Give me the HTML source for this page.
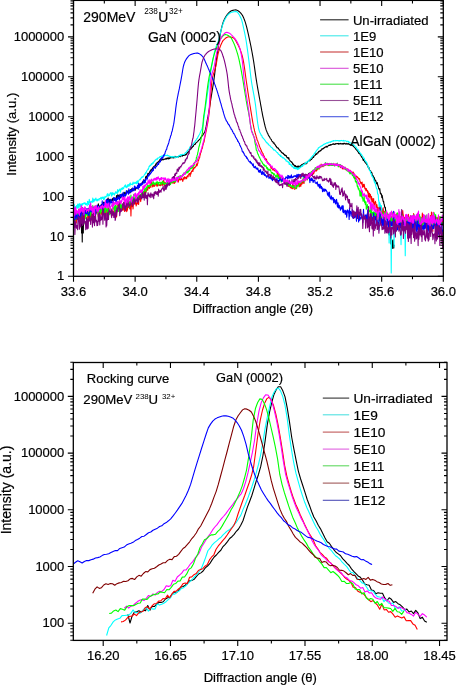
<!DOCTYPE html>
<html><head><meta charset="utf-8"><title>XRD</title>
<style>html,body{margin:0;padding:0;background:#fff;width:456px;height:685px;overflow:hidden}svg{display:block}</style>
</head><body>
<svg width="456" height="685" viewBox="0 0 456 685">
<rect width="456" height="685" fill="#fff"/>
<clipPath id="ct"><rect x="73.5" y="0.4" width="369.8" height="275.90000000000003"/></clipPath>
<g clip-path="url(#ct)" fill="none" stroke-width="1.1" stroke-linejoin="round">
<path stroke="#000000" d="M73.5 215L73.85 215.59L74.2 214.24L74.55 212.79L74.9 213.69L75.25 212.43L75.6 214.68L75.95 217.42L76.3 213.31L76.65 212.95L77 215.3L77.35 214.93L77.7 214.3L78.05 211.97L78.4 213.84L78.75 215.33L79.1 210.84L79.45 212.68L79.8 209.5L80.15 210.74L80.5 224L80.85 212.84L81.2 210.56L81.55 233L81.9 213.42L82.25 242L82.6 207.61L82.95 211.7L83.3 233L83.65 212.89L84 224L84.35 211.47L84.7 210.34L85.05 210.6L85.4 214.36L85.75 210.41L86.1 211.9L86.45 213.67L86.8 210.57L87.15 211.43L87.5 211.77L87.85 211.56L88.2 208.86L88.55 211.37L88.9 213.82L89.25 207.9L89.6 212.58L89.95 210.99L90.3 209.37L90.65 214.45L91 211.89L91.35 207.93L91.7 210.29L92.05 211.14L92.4 209.53L92.75 211.07L93.1 209.5L93.45 210.77L93.8 212.09L94.15 207.93L94.5 209.45L94.85 208.06L95.2 209.02L95.55 206.42L95.9 207.4L96.25 207.96L96.6 209.82L96.95 210.1L97.3 205.43L97.65 206.23L98 208.67L98.35 203.75L98.7 206.33L99.05 206.8L99.4 209L99.75 207.78L100.1 205.76L100.45 205.45L100.8 205.39L101.15 208.15L101.5 204.55L101.85 204.48L102.2 205.29L102.55 204.21L102.9 203.8L103.25 202.03L103.6 203.54L103.95 202.58L104.3 204.88L104.65 203.81L105 202.52L105.35 203.38L105.7 201.62L106.05 203.59L106.4 201.81L106.75 202.56L107.1 199.57L107.45 201.93L107.8 198.73L108.15 198.1L108.5 200.58L108.85 199.58L109.2 201.06L109.55 204.04L109.9 199.38L110.25 199.59L110.6 200.72L110.95 201.04L111.3 199.96L111.65 199.82L112 201.04L112.35 200.67L112.7 198.32L113.05 199.59L113.4 199.64L113.75 197.96L114.1 199.72L114.45 198L114.8 200.46L115.15 199.21L115.5 198.91L115.85 197.81L116.2 198.3L116.55 195.54L116.9 196.57L117.25 198.44L117.6 194.87L117.95 198.72L118.3 195.03L118.65 198.2L119 195.87L119.35 197.82L119.7 196.76L120.05 194.37L120.4 197.8L120.75 197.84L121.1 195.68L121.45 195.21L121.8 195.15L122.15 193.91L122.5 196.31L122.85 194.05L123.2 194.46L123.55 193.35L123.9 193.36L124.25 192.37L124.6 195.26L124.95 193.36L125.3 194.52L125.65 193.19L126 192.18L126.35 192.44L126.7 192L127.05 192.51L127.4 191.91L127.75 191.85L128.1 190.46L128.45 190.98L128.8 193.66L129.15 190.86L129.5 190.29L129.85 191.73L130.2 192.8L130.55 189.44L130.9 190.7L131.25 190.1L131.6 188.71L131.95 191.33L132.3 190.35L132.65 190.31L133 189.26L133.35 190.42L133.7 189.18L134.05 189.44L134.4 188.24L134.75 187.96L135.1 190.48L135.45 188.34L135.8 188.99L136.15 188.44L136.5 187.8L136.85 187.51L137.2 188.43L137.55 187.22L137.9 187.08L138.25 186.93L138.6 187.74L138.95 186.89L139.3 186.23L139.65 184.95L140 183.8L140.35 185.61L140.7 185.23L141.05 183.82L141.4 184.04L141.75 183.84L142.1 183.46L142.45 183.1L142.8 181.47L143.15 182.7L143.5 179.92L143.85 181.21L144.2 180.44L144.55 180.27L144.9 180.58L145.25 179.78L145.6 177.25L145.95 176.37L146.3 177.79L146.65 175.94L147 176.21L147.35 176.35L147.7 174.1L148.05 173.32L148.4 174.5L148.75 173.87L149.1 173.18L149.45 172.87L149.8 171.78L150.15 170.87L150.5 171.23L150.85 170.23L151.2 169.33L151.55 170.17L151.9 169.35L152.25 169.16L152.6 167.89L152.95 167.66L153.3 167.05L153.65 166.71L154 166.9L154.35 165.95L154.7 166.15L155.05 165.71L155.4 166.18L155.75 163.96L156.1 164.73L156.45 163.81L156.8 163.45L157.15 162.34L157.5 162.46L157.85 162.68L158.2 161.93L158.55 161.68L158.9 161.19L159.25 161.59L159.6 160.77L159.95 159.51L160.3 160.01L160.65 159.24L161 158.51L161.35 159.63L161.7 160.37L162.05 159.68L162.4 159.04L162.75 159.06L163.1 159.91L163.45 159.4L163.8 159.27L164.15 159.16L164.5 159.12L164.85 159.39L165.2 159.2L165.55 158.98L165.9 158.34L166.25 158.96L166.6 158.36L166.95 159.07L167.3 157.96L167.65 158.39L168 158.38L168.35 157.74L168.7 159L169.05 158.82L169.4 157.91L169.75 158.38L170.1 158.14L170.45 156.79L170.8 157.95L171.15 157.75L171.5 157.75L171.85 157.19L172.2 157.47L172.55 157.44L172.9 157.96L173.25 157.53L173.6 157.32L173.95 157.91L174.3 156.96L174.65 156.97L175 156.3L175.35 157.66L175.7 157.34L176.05 157.26L176.4 157.09L176.75 156.79L177.1 156.76L177.45 156.5L177.8 156.45L178.15 156.49L178.5 157.03L178.85 156.56L179.2 156.24L179.55 155.96L179.9 155.87L180.25 156.73L180.6 156.22L180.95 155.98L181.3 155.76L181.65 155.39L182 155.75L182.35 156.07L182.7 155.48L183.05 155.47L183.4 155.4L183.75 155.44L184.1 154.66L184.45 155.1L184.8 154.73L185.15 155.29L185.5 154.44L185.85 154.72L186.2 154.79L186.55 153.73L186.9 153.25L187.25 153.15L187.6 152.66L187.95 151.87L188.3 151.98L188.65 152.12L189 150.91L189.35 150.53L189.7 149.83L190.05 149.87L190.4 148.9L190.75 148.5L191.1 148.84L191.45 147.68L191.8 147.87L192.15 147.58L192.5 146.75L192.85 146.44L193.2 146.48L193.55 145.45L193.9 144.98L194.25 144.41L194.6 144.48L194.95 144.57L195.3 144.08L195.65 143.2L196 142.88L196.35 142.64L196.7 142.5L197.05 141.99L197.4 141.73L197.75 141.37L198.1 140.83L198.45 140.51L198.8 140.18L199.15 139.7L199.5 139.44L199.85 139.36L200.2 138.61L200.55 138.04L200.9 137.16L201.25 137.19L201.6 136.19L201.95 135.88L202.3 135.96L202.65 135.47L203 134.8L203.35 133.96L203.7 133.7L204.05 133.03L204.4 132.63L204.75 132.2L205.1 130.94L205.45 129.63L205.8 128.05L206.15 126.46L206.5 124.48L206.85 122.31L207.2 120.55L207.55 118.52L207.9 116.94L208.25 114.99L208.6 113.02L208.95 110.82L209.3 108.87L209.65 106.68L210 104.47L210.35 102.27L210.7 99.96L211.05 97.73L211.4 95.68L211.75 93.44L212.1 91.35L212.45 89.3L212.8 87.03L213.15 84.93L213.5 82.73L213.85 80.37L214.2 77.78L214.55 75.07L214.9 72.13L215.25 69.1L215.6 66.14L215.95 63.31L216.3 60.56L216.65 57.95L217 55.59L217.35 53.22L217.7 50.91L218.05 48.56L218.4 46.23L218.75 43.89L219.1 41.66L219.45 39.41L219.8 37.33L220.15 35.21L220.5 33.18L220.85 31.24L221.2 29.54L221.55 28.04L221.9 26.59L222.25 25.28L222.6 24.03L222.95 22.89L223.3 21.9L223.65 21.04L224 20.24L224.35 19.47L224.7 18.74L225.05 18.06L225.4 17.41L225.75 16.79L226.1 16.23L226.45 15.69L226.8 15.17L227.15 14.71L227.5 14.26L227.85 13.85L228.2 13.47L228.55 13.09L228.9 12.73L229.25 12.37L229.6 12.05L229.95 11.74L230.3 11.46L230.65 11.23L231 11.02L231.35 10.86L231.7 10.73L232.05 10.6L232.4 10.5L232.75 10.39L233.1 10.29L233.45 10.19L233.8 10.11L234.15 10.03L234.5 9.99L234.85 9.93L235.2 9.9L235.55 9.9L235.9 9.93L236.25 9.98L236.6 10.09L236.95 10.24L237.3 10.41L237.65 10.62L238 10.83L238.35 11.06L238.7 11.3L239.05 11.53L239.4 11.79L239.75 12.08L240.1 12.4L240.45 12.76L240.8 13.18L241.15 13.59L241.5 14.05L241.85 14.54L242.2 15.05L242.55 15.63L242.9 16.29L243.25 16.99L243.6 17.77L243.95 18.61L244.3 19.49L244.65 20.44L245 21.41L245.35 22.43L245.7 23.55L246.05 24.78L246.4 26.08L246.75 27.4L247.1 28.85L247.45 30.31L247.8 31.84L248.15 33.37L248.5 34.95L248.85 36.53L249.2 38.15L249.55 39.79L249.9 41.41L250.25 43.05L250.6 44.75L250.95 46.48L251.3 48.3L251.65 50.14L252 52.02L252.35 53.95L252.7 55.89L253.05 57.93L253.4 60L253.75 62.21L254.1 64.54L254.45 66.9L254.8 69.36L255.15 71.89L255.5 74.36L255.85 76.77L256.2 79.13L256.55 81.28L256.9 83.48L257.25 85.52L257.6 87.57L257.95 89.54L258.3 91.48L258.65 93.41L259 95.38L259.35 97.28L259.7 99.27L260.05 101.18L260.4 103.01L260.75 105.1L261.1 106.93L261.45 108.94L261.8 110.89L262.15 112.54L262.5 114.59L262.85 116.32L263.2 117.91L263.55 119.5L263.9 121.12L264.25 122.6L264.6 124.24L264.95 125.64L265.3 127.11L265.65 128.11L266 129.48L266.35 130.43L266.7 131.26L267.05 132.04L267.4 133.04L267.75 133.32L268.1 134.5L268.45 135.13L268.8 135.8L269.15 136.44L269.5 136.8L269.85 137.47L270.2 138.25L270.55 138.76L270.9 139.24L271.25 139.34L271.6 140.39L271.95 141.07L272.3 141.54L272.65 141.82L273 141.81L273.35 142.97L273.7 143.13L274.05 142.9L274.4 144.17L274.75 144.06L275.1 144.54L275.45 145.15L275.8 146.14L276.15 146.05L276.5 146.65L276.85 147.51L277.2 147.86L277.55 147.71L277.9 148.05L278.25 148.09L278.6 148.66L278.95 149.41L279.3 149.78L279.65 150.06L280 150.75L280.35 150.5L280.7 151.12L281.05 151.77L281.4 152.08L281.75 152.62L282.1 152.72L282.45 152.81L282.8 153.4L283.15 153.23L283.5 153.32L283.85 154.51L284.2 154.59L284.55 155.07L284.9 154.6L285.25 155.46L285.6 155.68L285.95 155.9L286.3 155.64L286.65 156.76L287 157.61L287.35 157.72L287.7 157.62L288.05 158.2L288.4 158.86L288.75 157.63L289.1 159.14L289.45 159.79L289.8 160.23L290.15 161.1L290.5 161.25L290.85 161.28L291.2 161.7L291.55 162.36L291.9 162.15L292.25 162.82L292.6 163.72L292.95 164.67L293.3 164L293.65 164.45L294 164.95L294.35 165.92L294.7 165.52L295.05 166.64L295.4 165.59L295.75 166.26L296.1 166.46L296.45 167.18L296.8 167.46L297.15 166.11L297.5 166.48L297.85 167.18L298.2 166.57L298.55 166L298.9 167.31L299.25 166.86L299.6 166.69L299.95 165.96L300.3 166.58L300.65 165.67L301 166.16L301.35 164.86L301.7 164.66L302.05 165L302.4 164.31L302.75 164.83L303.1 164.43L303.45 163.64L303.8 163.97L304.15 163.58L304.5 164.04L304.85 163.08L305.2 163L305.55 163.65L305.9 163.97L306.25 163.67L306.6 162.52L306.95 162.4L307.3 162.85L307.65 161.84L308 161.23L308.35 161.54L308.7 161.49L309.05 160.66L309.4 160.04L309.75 159.91L310.1 160.64L310.45 159.71L310.8 159.71L311.15 159.56L311.5 159.42L311.85 158.66L312.2 158.67L312.55 157.7L312.9 157.56L313.25 156.9L313.6 157.42L313.95 156.54L314.3 155.86L314.65 155.62L315 155.28L315.35 155.25L315.7 153.96L316.05 153.8L316.4 153.68L316.75 154.42L317.1 153.47L317.45 152.72L317.8 152.7L318.15 152.88L318.5 151.75L318.85 151.43L319.2 151.73L319.55 151.21L319.9 151.02L320.25 150.35L320.6 150.94L320.95 150.61L321.3 149.97L321.65 149.77L322 148.62L322.35 149.29L322.7 148.78L323.05 148.77L323.4 148.63L323.75 148.08L324.1 147.44L324.45 147.9L324.8 147.35L325.15 147.29L325.5 147.02L325.85 146.93L326.2 146.14L326.55 147.09L326.9 146.63L327.25 146.75L327.6 146.87L327.95 146.13L328.3 145.42L328.65 145.56L329 145.32L329.35 145.39L329.7 145.42L330.05 144.66L330.4 145.22L330.75 144.53L331.1 144.94L331.45 144.69L331.8 144.5L332.15 144.46L332.5 144.21L332.85 144.08L333.2 143.67L333.55 144.06L333.9 144.52L334.25 144.48L334.6 144.23L334.95 144L335.3 143.56L335.65 144.14L336 143.69L336.35 143.68L336.7 143.62L337.05 143.73L337.4 143.58L337.75 143.68L338.1 143.39L338.45 143.59L338.8 144.35L339.15 143.68L339.5 143.63L339.85 143.85L340.2 143.9L340.55 143.38L340.9 143.64L341.25 143.96L341.6 143.78L341.95 143.73L342.3 144.15L342.65 143.51L343 143.72L343.35 143.55L343.7 144.13L344.05 143.14L344.4 143.51L344.75 143.55L345.1 143.89L345.45 143.88L345.8 144.13L346.15 143.31L346.5 144.01L346.85 143.76L347.2 143.71L347.55 144.12L347.9 143.78L348.25 143.52L348.6 144.1L348.95 143.87L349.3 144.22L349.65 144.63L350 144.72L350.35 145.22L350.7 144.81L351.05 144.54L351.4 144.9L351.75 144.99L352.1 145.03L352.45 145.69L352.8 145.57L353.15 145.4L353.5 146.5L353.85 146.56L354.2 147.06L354.55 147.35L354.9 147.91L355.25 148.14L355.6 148.97L355.95 149.16L356.3 149.61L356.65 150.1L357 149.93L357.35 150.86L357.7 151.32L358.05 151.97L358.4 151.87L358.75 153.45L359.1 153.34L359.45 153.3L359.8 153.57L360.15 154.6L360.5 155.17L360.85 155.41L361.2 156.25L361.55 156.46L361.9 157.49L362.25 157.48L362.6 158.31L362.95 159.31L363.3 160.58L363.65 159.51L364 160.31L364.35 160.69L364.7 162.03L365.05 161.65L365.4 162.54L365.75 163.32L366.1 163.4L366.45 163.96L366.8 164.77L367.15 164.46L367.5 165.37L367.85 166.5L368.2 167.38L368.55 167.77L368.9 167.42L369.25 168.76L369.6 170.11L369.95 170.56L370.3 170.77L370.65 170.85L371 172.44L371.35 172.26L371.7 172.48L372.05 173.34L372.4 175.53L372.75 175.32L373.1 176.65L373.45 176.12L373.8 177.84L374.15 177.35L374.5 178.36L374.85 181.15L375.2 180.49L375.55 180.16L375.9 181.22L376.25 182.3L376.6 183.82L376.95 183.05L377.3 182.64L377.65 184.75L378 185.81L378.35 186.69L378.7 188.71L379.05 188.51L379.4 189.84L379.75 188.61L380.1 191.6L380.45 193.9L380.8 193.33L381.15 193.69L381.5 194.58L381.85 197.75L382.2 195.42L382.55 197.74L382.9 199.87L383.25 201.7L383.6 201.37L383.95 204.02L384.3 204.57L384.65 206.79L385 207.89L385.35 207.49L385.7 211.21L386.05 214.73L386.4 212.42L386.75 215.72L387.1 219.65L387.45 217.04L387.8 222.06L388.15 220.31L388.5 228.48L388.85 234.09L389.2 235.18L389.55 229.48L389.9 234.79L390.25 234.39L390.6 236.12L390.95 243.93L391.3 232.88L391.65 244.67L392 240.56L392.35 248.49L392.7 243.44L393.05 239.84L393.4 245.27L393.75 248.14L394.1 244.79"/>
<path stroke="#00ffff" d="M73.5 208.77L73.85 207.02L74.2 204.34L74.55 208.94L74.9 208.47L75.25 207.46L75.6 207.18L75.95 208.52L76.3 206.08L76.65 205.55L77 206.19L77.35 208.13L77.7 204.1L78.05 207.83L78.4 204.94L78.75 204.12L79.11 207.47L79.46 205.32L79.81 203.42L80.16 204.66L80.51 206.4L80.86 206.64L81.21 204.15L81.56 205.22L81.91 205.52L82.26 203.45L82.61 204.74L82.96 204.06L83.31 203.21L83.66 203.15L84.01 203.81L84.36 203.63L84.71 202.67L85.06 202.74L85.41 204.74L85.76 203.38L86.11 204.17L86.46 204.48L86.81 203.52L87.16 205.69L87.51 201.38L87.86 203.47L88.21 201.84L88.56 204.64L88.91 204.32L89.26 199.34L89.61 200.55L89.96 202.61L90.32 202.66L90.67 202.49L91.02 201.32L91.37 201.91L91.72 202.06L92.07 201.01L92.42 202.34L92.77 197.98L93.12 201.62L93.47 199.37L93.82 201.83L94.17 200.2L94.52 199.26L94.87 200.77L95.22 199.03L95.57 198.93L95.92 198.01L96.27 199.84L96.62 200.39L96.97 200.93L97.32 199.37L97.67 200.73L98.02 199.34L98.37 199.09L98.72 199.8L99.07 200.27L99.42 198.44L99.77 198.44L100.12 198.43L100.47 198.6L100.82 197.31L101.17 199.5L101.53 197.67L101.88 198.58L102.23 196.94L102.58 198.22L102.93 198.14L103.28 197.07L103.63 199.8L103.98 197.75L104.33 199.26L104.68 198.19L105.03 196.19L105.38 196.39L105.73 197.21L106.08 196.66L106.43 196.52L106.78 196.01L107.13 194.17L107.48 195.83L107.83 193.47L108.18 196.24L108.53 194.88L108.88 194.77L109.23 195.18L109.58 195.59L109.93 193.59L110.28 193.11L110.63 193.72L110.98 192.53L111.33 193.55L111.68 196.16L112.03 193.18L112.38 194.85L112.74 192.56L113.09 194.17L113.44 193.37L113.79 193.49L114.14 193.99L114.49 195.06L114.84 193.28L115.19 193.04L115.54 191.75L115.89 193.16L116.24 192.13L116.59 193.02L116.94 191.95L117.29 193.52L117.64 189.62L117.99 191.08L118.34 192.02L118.69 190.6L119.04 189.95L119.39 190.24L119.74 188.96L120.09 190.16L120.44 192.11L120.79 190.66L121.14 188.33L121.49 188.33L121.84 188.54L122.19 189.6L122.54 187.72L122.89 187.63L123.24 188.82L123.6 188.58L123.95 187.28L124.3 186.43L124.65 185.86L125 186.41L125.35 184.91L125.7 187.29L126.05 185.94L126.4 186.72L126.75 187.73L127.1 186.99L127.45 184.89L127.8 186.44L128.15 186.53L128.5 184.82L128.85 184.52L129.2 185.09L129.55 183.75L129.9 186.13L130.25 182.86L130.6 183.79L130.95 184.35L131.3 184.27L131.65 184.46L132 184.42L132.35 183.91L132.7 184.85L133.05 182.13L133.4 183.68L133.75 182.98L134.1 183.5L134.45 183.42L134.81 182.38L135.16 182.43L135.51 183.36L135.86 182.84L136.21 181.88L136.56 183.74L136.91 183.73L137.26 180.69L137.61 181.77L137.96 183.14L138.31 181.6L138.66 180.91L139.01 180.31L139.36 179.77L139.71 179.69L140.06 179.12L140.41 179.68L140.76 178.54L141.11 178.16L141.46 177.28L141.81 177.68L142.16 176.74L142.51 176.82L142.86 177.2L143.21 176.36L143.56 176.04L143.91 175.53L144.26 174.94L144.61 174.41L144.96 173.86L145.31 174.02L145.66 172.44L146.02 173.31L146.37 172.01L146.72 171.02L147.07 170.58L147.42 169.9L147.77 169.75L148.12 168.71L148.47 169.07L148.82 167.52L149.17 166.22L149.52 166.43L149.87 165.3L150.22 165.73L150.57 165.76L150.92 165.12L151.27 163.82L151.62 163.69L151.97 164.43L152.32 163.4L152.67 162.88L153.02 162.96L153.37 163.18L153.72 162.33L154.07 161.49L154.42 161.24L154.77 161.01L155.12 160.19L155.47 159.7L155.82 159.84L156.17 159.15L156.52 159.22L156.88 159.01L157.23 159.62L157.58 158.16L157.93 158.21L158.28 157.98L158.63 158.01L158.98 158.05L159.33 157.3L159.68 157L160.03 156.52L160.38 156.61L160.73 156.97L161.08 156.62L161.43 156.08L161.78 156.15L162.13 156.15L162.48 156.19L162.83 155.68L163.18 155.69L163.53 155.05L163.88 155.21L164.23 156.12L164.58 154.75L164.93 155.38L165.28 155.58L165.63 155.39L165.98 155.26L166.33 155.55L166.68 155.61L167.03 155.64L167.38 155.06L167.73 155.73L168.09 155.55L168.44 155.73L168.79 156.08L169.14 156.3L169.49 156.47L169.84 156.06L170.19 156.65L170.54 156.83L170.89 156.9L171.24 157.07L171.59 156.6L171.94 156.67L172.29 157.1L172.64 156.38L172.99 157.02L173.34 156.81L173.69 156.92L174.04 156.46L174.39 156.81L174.74 157.16L175.09 157.51L175.44 157.56L175.79 157.17L176.14 157.09L176.49 156.79L176.84 157.14L177.19 156.78L177.54 156.95L177.89 157.2L178.24 156.39L178.59 155.69L178.94 155.73L179.3 155.33L179.65 155.23L180 155.92L180.35 155.37L180.7 154.6L181.05 155.21L181.4 155.28L181.75 154.6L182.1 154.37L182.45 154.37L182.8 154.46L183.15 154.46L183.5 154.51L183.85 154.38L184.2 154.22L184.55 154.1L184.9 153.68L185.25 152.73L185.6 152.9L185.95 152.69L186.3 152.07L186.65 152.04L187 151.18L187.35 150.52L187.7 150.75L188.05 150.03L188.4 149.42L188.75 149.17L189.1 148.78L189.45 148.17L189.8 146.99L190.15 147.1L190.51 146.77L190.86 146.25L191.21 146.18L191.56 146.06L191.91 145.23L192.26 144.68L192.61 145.09L192.96 144.05L193.31 143.44L193.66 143.38L194.01 142.98L194.36 142.26L194.71 142.14L195.06 141.35L195.41 140.76L195.76 140.51L196.11 140.12L196.46 139.28L196.81 138.95L197.16 138.29L197.51 138.33L197.86 137L198.21 136.81L198.56 135.89L198.91 135.22L199.26 134.71L199.61 134.04L199.96 133.41L200.31 132.54L200.66 131.65L201.01 130.89L201.37 130.24L201.72 129.34L202.07 128.46L202.42 127.17L202.77 126L203.12 124.37L203.47 122.05L203.82 119.39L204.17 116.8L204.52 114.09L204.87 111.78L205.22 109.12L205.57 106.91L205.92 104.44L206.27 102.09L206.62 99.59L206.97 97.07L207.32 94.63L207.67 92.22L208.02 89.81L208.37 87.4L208.72 85.07L209.07 82.83L209.42 80.43L209.77 78.28L210.12 76.02L210.47 73.86L210.82 71.71L211.17 69.56L211.52 67.5L211.87 65.41L212.22 63.51L212.58 61.59L212.93 59.75L213.28 57.88L213.63 56.02L213.98 54.33L214.33 52.72L214.68 51.25L215.03 49.91L215.38 48.74L215.73 47.67L216.08 46.76L216.43 45.87L216.78 44.99L217.13 44.14L217.48 43.26L217.83 42.39L218.18 41.44L218.53 40.34L218.88 39.13L219.23 37.75L219.58 36.28L219.93 34.81L220.28 33.3L220.63 31.92L220.98 30.64L221.33 29.37L221.68 28.1L222.03 26.87L222.38 25.68L222.73 24.56L223.08 23.55L223.43 22.65L223.79 21.84L224.14 21.06L224.49 20.32L224.84 19.59L225.19 18.91L225.54 18.26L225.89 17.66L226.24 17.08L226.59 16.55L226.94 16.03L227.29 15.58L227.64 15.18L227.99 14.81L228.34 14.46L228.69 14.14L229.04 13.81L229.39 13.5L229.74 13.23L230.09 12.98L230.44 12.76L230.79 12.56L231.14 12.41L231.49 12.31L231.84 12.22L232.19 12.12L232.54 12.05L232.89 11.97L233.24 11.89L233.59 11.83L233.94 11.78L234.29 11.72L234.64 11.67L235 11.65L235.35 11.63L235.7 11.62L236.05 11.59L236.4 11.65L236.75 11.75L237.1 11.98L237.45 12.27L237.8 12.63L238.15 13.06L238.5 13.54L238.85 14.1L239.2 14.68L239.55 15.3L239.9 15.99L240.25 16.67L240.6 17.39L240.95 18.09L241.3 18.92L241.65 19.94L242 21.15L242.35 22.49L242.7 23.95L243.05 25.52L243.4 27.12L243.75 28.76L244.1 30.4L244.45 31.99L244.8 33.65L245.15 35.38L245.5 37.24L245.86 39.17L246.21 41.24L246.56 43.49L246.91 45.84L247.26 48.34L247.61 50.93L247.96 53.53L248.31 56.22L248.66 58.88L249.01 61.63L249.36 64.55L249.71 67.49L250.06 70.55L250.41 73.5L250.76 76.36L251.11 79.02L251.46 81.53L251.81 83.78L252.16 85.77L252.51 87.68L252.86 89.64L253.21 91.43L253.56 93.34L253.91 95.19L254.26 97.13L254.61 99.18L254.96 101.26L255.31 103.7L255.66 106.27L256.01 109.24L256.36 112.1L256.71 115.22L257.07 118.07L257.42 121.01L257.77 123.66L258.12 125.71L258.47 127.76L258.82 129.25L259.17 130.59L259.52 131.69L259.87 132.42L260.22 133.01L260.57 134.1L260.92 134.24L261.27 135.48L261.62 135.67L261.97 135.82L262.32 137.46L262.67 137.76L263.02 137.7L263.37 138.42L263.72 138.79L264.07 139.29L264.42 139.36L264.77 139.96L265.12 140.64L265.47 141L265.82 141.66L266.17 141.83L266.52 142.8L266.87 142.49L267.22 143.13L267.57 143L267.92 143.55L268.28 144.57L268.63 144.37L268.98 145.11L269.33 145.32L269.68 145.41L270.03 145.94L270.38 146.23L270.73 146.57L271.08 147.24L271.43 147.54L271.78 147.52L272.13 147.75L272.48 148.4L272.83 148.6L273.18 149.24L273.53 150.03L273.88 149.81L274.23 149.87L274.58 150.13L274.93 150.24L275.28 150.53L275.63 150.81L275.98 151.31L276.33 151.62L276.68 152.31L277.03 152.27L277.38 152.65L277.73 152.64L278.08 153.89L278.43 153.83L278.78 154.57L279.13 154.56L279.49 155.11L279.84 154.82L280.19 155.46L280.54 156.47L280.89 155.4L281.24 156.55L281.59 157.04L281.94 156.89L282.29 157.32L282.64 157.81L282.99 157.39L283.34 158.09L283.69 157.89L284.04 158.26L284.39 158.58L284.74 159.06L285.09 159.47L285.44 159.88L285.79 159.42L286.14 161.1L286.49 161.06L286.84 161.17L287.19 161.01L287.54 161.43L287.89 162.03L288.24 162.31L288.59 161.74L288.94 163.16L289.29 164.5L289.64 162.73L289.99 164.39L290.35 164.48L290.7 164.63L291.05 165.69L291.4 164.84L291.75 165.84L292.1 166.82L292.45 166.34L292.8 166.55L293.15 167.12L293.5 167.13L293.85 168.4L294.2 167.4L294.55 168.53L294.9 167.63L295.25 168.8L295.6 168.53L295.95 167.34L296.3 168.76L296.65 168.24L297 168.56L297.35 169.56L297.7 168.09L298.05 168.01L298.4 169.17L298.75 168.31L299.1 168.85L299.45 168.01L299.8 167.16L300.15 167.33L300.5 167.72L300.85 167.31L301.2 166.57L301.56 166.32L301.91 165.98L302.26 165.49L302.61 166.43L302.96 165.26L303.31 164.48L303.66 164.54L304.01 164.84L304.36 164.53L304.71 163.9L305.06 163.38L305.41 163.42L305.76 162.37L306.11 162.24L306.46 162.87L306.81 162L307.16 162.06L307.51 162.1L307.86 161.54L308.21 160.94L308.56 161.48L308.91 160.54L309.26 159.77L309.61 159.87L309.96 159.38L310.31 158.52L310.66 158.53L311.01 158.07L311.36 157.01L311.71 157.32L312.06 156.88L312.41 156.4L312.77 155.51L313.12 155.51L313.47 155.13L313.82 154.67L314.17 153.73L314.52 153.81L314.87 152.66L315.22 152.46L315.57 152.43L315.92 151.27L316.27 150.82L316.62 150.82L316.97 149.9L317.32 149.48L317.67 149.21L318.02 149.06L318.37 147.75L318.72 147.83L319.07 147.49L319.42 147.18L319.77 146.97L320.12 146.71L320.47 146.76L320.82 146.17L321.17 146.2L321.52 146.03L321.87 145.48L322.22 145.48L322.57 145.66L322.92 145.09L323.27 144.62L323.62 144.57L323.98 144.15L324.33 144.26L324.68 144.23L325.03 143.63L325.38 143.61L325.73 143.78L326.08 143.22L326.43 143.25L326.78 142.81L327.13 142.73L327.48 142.68L327.83 143.21L328.18 142.47L328.53 142.32L328.88 142.19L329.23 142.17L329.58 142.24L329.93 142.02L330.28 142.34L330.63 141.8L330.98 141.98L331.33 141.6L331.68 141.58L332.03 141L332.38 141.22L332.73 141.15L333.08 141.03L333.43 140.51L333.78 141.14L334.13 140.79L334.48 140.73L334.84 140.73L335.19 140.7L335.54 140.82L335.89 140.42L336.24 140.49L336.59 140.77L336.94 140.73L337.29 140.62L337.64 140.58L337.99 140.52L338.34 140.7L338.69 140.99L339.04 140.49L339.39 141.09L339.74 140.94L340.09 140.66L340.44 140.95L340.79 140.45L341.14 140.4L341.49 140.52L341.84 140.73L342.19 140.77L342.54 140.74L342.89 140.9L343.24 140.41L343.59 141.03L343.94 140.61L344.29 140.8L344.64 140.88L344.99 140.73L345.34 140.71L345.69 140.84L346.05 141.13L346.4 141.34L346.75 141.42L347.1 141.16L347.45 141.31L347.8 141.4L348.15 141.85L348.5 141.4L348.85 142.32L349.2 142.07L349.55 142.16L349.9 142.6L350.25 142.94L350.6 142.96L350.95 143.32L351.3 143.28L351.65 143.75L352 143.95L352.35 143.83L352.7 144.45L353.05 144.4L353.4 144.68L353.75 144.74L354.1 145.25L354.45 145.9L354.8 145.73L355.15 146.66L355.5 147L355.85 147.42L356.2 147.17L356.55 148.21L356.9 148.88L357.26 148.94L357.61 149.66L357.96 149.39L358.31 150.77L358.66 150.82L359.01 151.75L359.36 151.35L359.71 152.6L360.06 152.76L360.41 153.56L360.76 153.46L361.11 154.03L361.46 155.47L361.81 154.91L362.16 155.44L362.51 156.09L362.86 156.33L363.21 157.65L363.56 158.39L363.91 158.02L364.26 158.18L364.61 159.87L364.96 160.44L365.31 160.93L365.66 161.69L366.01 161.48L366.36 162.42L366.71 162.58L367.06 163.28L367.41 165.11L367.76 165.14L368.12 167.34L368.47 167.12L368.82 167.61L369.17 169.2L369.52 170.61L369.87 170.81L370.22 170.76L370.57 172.52L370.92 173.99L371.27 173.78L371.62 174.46L371.97 176.41L372.32 176.67L372.67 176.66L373.02 177.93L373.37 178.46L373.72 180L374.07 180.71L374.42 182.34L374.77 182.93L375.12 182.12L375.47 184.66L375.82 186.14L376.17 186.93L376.52 188.66L376.87 188.6L377.22 189.93L377.57 193.86L377.92 193.98L378.27 194.92L378.62 200.94L378.97 200.71L379.33 230L379.68 202.58L380.03 203.75L380.38 205L380.73 207.18L381.08 209.24L381.43 205.66L381.78 211.46L382.13 208.81L382.48 209.55L382.83 213.11L383.18 212.19L383.53 209.9L383.88 216.39L384.23 211.72L384.58 214.06L384.93 214.27L385.28 216.89L385.63 213.7L385.98 216.93L386.33 214.01L386.68 218.3L387.03 215.17L387.38 216.68L387.73 222.21L388.08 219.61L388.43 219.88L388.78 225.39L389.13 243L389.48 219.54L389.83 223.59L390.18 219.33L390.54 225.12L390.89 225.59L391.24 273L391.59 221.6L391.94 223.79L392.29 223.58L392.64 221.26L392.99 225.25L393.34 218.8L393.69 222.89L394.04 247L394.39 223.3L394.74 224.73L395.09 220.83L395.44 225.33L395.79 223.34L396.14 222.09L396.49 220.23L396.84 220.6L397.19 224.34L397.54 220.99L397.89 223.44L398.24 225.82L398.59 225.67L398.94 226.9L399.29 222.31L399.64 220.36L399.99 225.49L400.34 223.76L400.69 225.76L401.04 244.6L401.39 225.96L401.75 225.13L402.1 224.83L402.45 224.34L402.8 224.12L403.15 223.76L403.5 223.78L403.85 225.72L404.2 222.07L404.55 227.69L404.9 223.2L405.25 255.8L405.6 223.39L405.95 223.09L406.3 228.88L406.65 223.12L407 220.79"/>
<path stroke="#ff0000" d="M73.5 215.68L73.85 216.87L74.2 224.78L74.55 218.37L74.9 220.62L75.25 214.3L75.6 218.55L75.95 219.47L76.3 222.97L76.65 214.93L77 218.96L77.35 217.91L77.7 213.65L78.05 216.71L78.4 215.86L78.75 209.33L79.1 218.38L79.45 218.1L79.8 214.98L80.15 212.11L80.5 220.74L80.85 216.91L81.21 219.13L81.56 220.25L81.91 214.25L82.26 218.25L82.61 214.96L82.96 215.43L83.31 215.28L83.66 215.46L84.01 218.76L84.36 215.69L84.71 214.79L85.06 214.35L85.41 216.14L85.76 212.37L86.11 213.48L86.46 214.76L86.81 213.17L87.16 214.44L87.51 212.92L87.86 220.59L88.21 218.53L88.56 215.87L88.91 214.33L89.26 220.87L89.61 215.33L89.96 214.07L90.31 215.15L90.66 215.11L91.01 218.27L91.36 214.05L91.71 220.15L92.06 211.45L92.41 215.96L92.76 211L93.11 219.1L93.46 212.85L93.81 213.58L94.16 216.36L94.51 217.25L94.86 210.41L95.21 212.56L95.56 209.51L95.92 213.84L96.27 213.11L96.62 212.36L96.97 211.35L97.32 212.15L97.67 211.08L98.02 214.64L98.37 217.38L98.72 207.6L99.07 212.66L99.42 211.76L99.77 214.27L100.12 210.17L100.47 212.38L100.82 209.83L101.17 214.63L101.52 212.92L101.87 212.14L102.22 213.58L102.57 211.81L102.92 208.14L103.27 214.06L103.62 213.16L103.97 211.89L104.32 214.98L104.67 215.58L105.02 209.17L105.37 209.98L105.72 216.33L106.07 215.92L106.42 209.96L106.77 208.71L107.12 210.15L107.47 210.48L107.82 207.48L108.17 211.82L108.52 208.21L108.87 208.35L109.22 214.05L109.57 209.67L109.92 211.27L110.27 213.1L110.63 213.53L110.98 210.38L111.33 211.34L111.68 208.95L112.03 215.75L112.38 212.75L112.73 208.02L113.08 210.89L113.43 212.68L113.78 211.98L114.13 215.43L114.48 214.13L114.83 209.02L115.18 210.1L115.53 206.9L115.88 210.77L116.23 210.41L116.58 216.89L116.93 210.06L117.28 204.35L117.63 207.89L117.98 209.79L118.33 206.22L118.68 207.12L119.03 208.3L119.38 210L119.73 208.64L120.08 206.75L120.43 210.89L120.78 207.5L121.13 207.54L121.48 205.3L121.83 206.72L122.18 210.25L122.53 204.56L122.88 208.35L123.23 210.25L123.58 207.48L123.93 208.95L124.28 205.55L124.63 211.44L124.98 210.85L125.34 208.64L125.69 203.7L126.04 205.33L126.39 210.11L126.74 211.74L127.09 208.17L127.44 210.27L127.79 205.67L128.14 206.48L128.49 206.74L128.84 207.53L129.19 202.79L129.54 208.32L129.89 208.99L130.24 203.12L130.59 202.47L130.94 216L131.29 203.7L131.64 199.68L131.99 206.59L132.34 204.95L132.69 203.37L133.04 208.85L133.39 204.34L133.74 202.21L134.09 203.87L134.44 201.23L134.79 201.63L135.14 203.86L135.49 201.67L135.84 201.68L136.19 205.87L136.54 203.96L136.89 203.6L137.24 202.79L137.59 202.45L137.94 204.14L138.29 200.92L138.64 204.35L138.99 198.54L139.34 199.62L139.69 197.16L140.05 198.85L140.4 200.17L140.75 201.57L141.1 197.27L141.45 198.1L141.8 196.97L142.15 195.76L142.5 194.41L142.85 195.98L143.2 192.3L143.55 194.74L143.9 193.91L144.25 192.15L144.6 190.96L144.95 189.77L145.3 194.1L145.65 188.73L146 192.47L146.35 190.6L146.7 188.78L147.05 187.21L147.4 189.81L147.75 190.26L148.1 186.18L148.45 186.59L148.8 187.94L149.15 186.59L149.5 188.35L149.85 184.72L150.2 185.84L150.55 183.36L150.9 187.36L151.25 183.73L151.6 181.86L151.95 184.44L152.3 184.43L152.65 186.98L153 184.18L153.35 184.58L153.7 185.34L154.05 186.57L154.4 184.52L154.75 185.89L155.11 185.24L155.46 184.23L155.81 184.7L156.16 184.64L156.51 183.46L156.86 186.11L157.21 182.88L157.56 186.05L157.91 185.79L158.26 184.48L158.61 183.65L158.96 184.31L159.31 185.16L159.66 185.47L160.01 184.87L160.36 185.7L160.71 183.73L161.06 184.65L161.41 182.36L161.76 185.16L162.11 184.33L162.46 183.55L162.81 185.39L163.16 184.73L163.51 180.38L163.86 183.75L164.21 181.85L164.56 184.79L164.91 186.4L165.26 182.7L165.61 183.32L165.96 182.84L166.31 183.46L166.66 183.73L167.01 184.4L167.36 181.64L167.71 184.59L168.06 181.57L168.41 182.92L168.76 183.88L169.11 183.28L169.46 181.29L169.82 181.49L170.17 181.7L170.52 182.11L170.87 183.42L171.22 180.54L171.57 182.49L171.92 182.59L172.27 182.45L172.62 182.27L172.97 183.4L173.32 182.15L173.67 182.5L174.02 182.09L174.37 183.41L174.72 179.16L175.07 182.67L175.42 180.86L175.77 180.76L176.12 179.91L176.47 178.83L176.82 180.42L177.17 180.01L177.52 181.25L177.87 179L178.22 182.15L178.57 180.8L178.92 180.15L179.27 179.58L179.62 179.42L179.97 178.97L180.32 179.53L180.67 180.05L181.02 179.77L181.37 178.34L181.72 179.49L182.07 178.71L182.42 179.74L182.77 181.45L183.12 179.99L183.47 178.86L183.82 177.33L184.17 177.39L184.53 176.93L184.88 179.26L185.23 177.5L185.58 178.13L185.93 177.19L186.28 177.67L186.63 178.72L186.98 176.35L187.33 176.4L187.68 175.65L188.03 176.98L188.38 174.82L188.73 174.4L189.08 173.83L189.43 173.48L189.78 174.87L190.13 176.43L190.48 172.78L190.83 174.08L191.18 172.94L191.53 171.22L191.88 171.37L192.23 170.83L192.58 169.87L192.93 171.43L193.28 167.8L193.63 169.12L193.98 168.61L194.33 167.47L194.68 167.61L195.03 167.74L195.38 166.78L195.73 166.54L196.08 166.27L196.43 163.83L196.78 165.77L197.13 165.69L197.48 164.09L197.83 163.28L198.18 160.79L198.53 160.61L198.88 159.11L199.24 158.12L199.59 157.82L199.94 155.62L200.29 154.76L200.64 152.63L200.99 152.31L201.34 151.24L201.69 149.67L202.04 148.45L202.39 148.32L202.74 145.73L203.09 144.5L203.44 143.25L203.79 142.59L204.14 141.43L204.49 139.28L204.84 137.32L205.19 135.72L205.54 134.39L205.89 132.01L206.24 130.8L206.59 128.93L206.94 126.76L207.29 125.04L207.64 123.11L207.99 121.13L208.34 118.41L208.69 116.45L209.04 113.64L209.39 110.8L209.74 107.68L210.09 103.57L210.44 98.88L210.79 94.02L211.14 89.4L211.49 85.36L211.84 81.94L212.19 79.51L212.54 77.76L212.89 76.14L213.24 74.85L213.59 73.71L213.95 72.58L214.3 71.56L214.65 70.58L215 69.46L215.35 68.2L215.7 66.87L216.05 65.2L216.4 63.33L216.75 61.21L217.1 59.08L217.45 57.06L217.8 55.22L218.15 53.66L218.5 52.26L218.85 50.96L219.2 49.72L219.55 48.59L219.9 47.47L220.25 46.56L220.6 45.67L220.95 44.81L221.3 43.95L221.65 43.16L222 42.44L222.35 41.75L222.7 41.12L223.05 40.65L223.4 40.22L223.75 39.85L224.1 39.54L224.45 39.19L224.8 38.92L225.15 38.6L225.5 38.31L225.85 38.05L226.2 37.8L226.55 37.6L226.9 37.4L227.25 37.22L227.6 37.06L227.95 36.89L228.3 36.87L228.65 36.78L229.01 36.8L229.36 36.83L229.71 36.84L230.06 36.87L230.41 36.93L230.76 37L231.11 37.08L231.46 37.18L231.81 37.28L232.16 37.43L232.51 37.54L232.86 37.69L233.21 37.81L233.56 37.98L233.91 38.22L234.26 38.56L234.61 38.97L234.96 39.43L235.31 39.94L235.66 40.51L236.01 41.17L236.36 41.78L236.71 42.44L237.06 43.14L237.41 43.8L237.76 44.44L238.11 45.07L238.46 45.81L238.81 46.48L239.16 47.23L239.51 47.99L239.86 48.79L240.21 49.65L240.56 50.61L240.91 51.58L241.26 52.58L241.61 53.65L241.96 54.84L242.31 56.18L242.66 57.55L243.01 59.17L243.36 60.86L243.72 62.9L244.07 65.04L244.42 67.39L244.77 69.92L245.12 72.39L245.47 75.14L245.82 77.72L246.17 80.24L246.52 82.57L246.87 84.94L247.22 87.29L247.57 89.69L247.92 92.11L248.27 94.21L248.62 96.55L248.97 98.69L249.32 101.2L249.67 103.34L250.02 105.48L250.37 107.43L250.72 109.81L251.07 111.94L251.42 114.15L251.77 116.24L252.12 118.45L252.47 120.3L252.82 122.51L253.17 124.26L253.52 125.93L253.87 127.65L254.22 129.14L254.57 130.92L254.92 132.02L255.27 133.51L255.62 134.59L255.97 135.49L256.32 137.41L256.67 137.92L257.02 139.6L257.37 140.58L257.72 140.88L258.07 142.12L258.43 143.25L258.78 144.08L259.13 144.86L259.48 146.53L259.83 147L260.18 148.11L260.53 148.57L260.88 149.69L261.23 149.97L261.58 151.06L261.93 152.09L262.28 152.56L262.63 153.02L262.98 153.4L263.33 154.75L263.68 155.54L264.03 155.91L264.38 156.31L264.73 157.73L265.08 159.53L265.43 158.57L265.78 159.59L266.13 160.25L266.48 159.03L266.83 161.29L267.18 161.32L267.53 163.22L267.88 162.66L268.23 162.8L268.58 163.65L268.93 164.37L269.28 164.31L269.63 165.1L269.98 164.59L270.33 165.82L270.68 166.95L271.03 168.24L271.38 167.7L271.73 167.75L272.08 168.83L272.43 169.08L272.78 169.95L273.14 169.87L273.49 169.27L273.84 169.93L274.19 170.22L274.54 170.68L274.89 170.96L275.24 170.49L275.59 169.71L275.94 171.29L276.29 170.47L276.64 172.67L276.99 172.99L277.34 171.87L277.69 174.39L278.04 174.95L278.39 174.64L278.74 176.51L279.09 177.13L279.44 174.59L279.79 177.16L280.14 176.98L280.49 177.37L280.84 178.29L281.19 177.01L281.54 177.52L281.89 177.66L282.24 178.1L282.59 179.17L282.94 178.08L283.29 178.87L283.64 181L283.99 180.63L284.34 181.48L284.69 179.24L285.04 180.79L285.39 181.35L285.74 182.34L286.09 181.93L286.44 184.05L286.79 183.21L287.14 183.64L287.49 183.97L287.85 185.16L288.2 184.03L288.55 186.34L288.9 185.82L289.25 185.73L289.6 185.86L289.95 186.74L290.3 187.62L290.65 187.74L291 187.17L291.35 187.97L291.7 187.07L292.05 188.64L292.4 186.96L292.75 184.23L293.1 188.75L293.45 187.07L293.8 185.32L294.15 186.55L294.5 185.56L294.85 189.41L295.2 187.21L295.55 184.4L295.9 187.06L296.25 185.72L296.6 188.62L296.95 184.65L297.3 183L297.65 185.83L298 185.14L298.35 184.87L298.7 182.49L299.05 185.51L299.4 186.83L299.75 182.13L300.1 185.68L300.45 183.28L300.8 186.55L301.15 183.96L301.5 182.94L301.85 184.19L302.2 183.23L302.55 181.65L302.91 182.89L303.26 181.22L303.61 179.51L303.96 183.57L304.31 180.61L304.66 180.05L305.01 180.82L305.36 178.46L305.71 178.41L306.06 179.05L306.41 178.74L306.76 179.08L307.11 179.88L307.46 177.91L307.81 178.61L308.16 178.41L308.51 176.39L308.86 177.41L309.21 175.93L309.56 177.6L309.91 176.68L310.26 175.93L310.61 174.31L310.96 175.39L311.31 174.23L311.66 175.29L312.01 174.19L312.36 173.23L312.71 174.49L313.06 173.97L313.41 172.46L313.76 173.67L314.11 172.01L314.46 171.62L314.81 171.59L315.16 170.44L315.51 170.3L315.86 170.12L316.21 171.08L316.56 170.65L316.91 168.86L317.26 169.97L317.62 168.34L317.97 168.36L318.32 168.48L318.67 167.8L319.02 169.21L319.37 167.38L319.72 166.12L320.07 167.8L320.42 166.35L320.77 166.25L321.12 164.11L321.47 166.87L321.82 166.57L322.17 166.4L322.52 166.38L322.87 166.74L323.22 165.36L323.57 165.93L323.92 164.61L324.27 164.78L324.62 165.67L324.97 165.11L325.32 163.82L325.67 164.93L326.02 164.49L326.37 164L326.72 164.84L327.07 164.23L327.42 163.41L327.77 163.73L328.12 165.73L328.47 163.45L328.82 164.67L329.17 164.95L329.52 164.98L329.87 163.69L330.22 164.33L330.57 164.67L330.92 165.15L331.27 164.16L331.62 163.81L331.97 165.35L332.33 165.44L332.68 164.95L333.03 164.29L333.38 165.03L333.73 164.85L334.08 165.39L334.43 163.95L334.78 164.94L335.13 164.78L335.48 164.14L335.83 165.11L336.18 165.01L336.53 164.74L336.88 165.35L337.23 164.13L337.58 165.17L337.93 165.59L338.28 165.58L338.63 166.25L338.98 164.72L339.33 164.61L339.68 166L340.03 166.29L340.38 167.64L340.73 166.69L341.08 165.74L341.43 167.13L341.78 166.06L342.13 165.74L342.48 168.96L342.83 167.42L343.18 167.88L343.53 167.93L343.88 169.05L344.23 168.06L344.58 168.94L344.93 167.37L345.28 167.25L345.63 169.62L345.98 169.84L346.33 169.26L346.68 169.23L347.04 169.37L347.39 168.88L347.74 170.88L348.09 170.38L348.44 170.47L348.79 170.58L349.14 171.36L349.49 171.15L349.84 171.58L350.19 170.21L350.54 171.88L350.89 173.57L351.24 171.5L351.59 172.1L351.94 173.26L352.29 173.59L352.64 173.59L352.99 171.88L353.34 174.1L353.69 172.89L354.04 173.54L354.39 175.16L354.74 174.72L355.09 176.13L355.44 178.76L355.79 176.86L356.14 177.2L356.49 175.99L356.84 176.62L357.19 176.58L357.54 177.51L357.89 177.33L358.24 178.19L358.59 179.08L358.94 178.65L359.29 178.61L359.64 179.1L359.99 181.56L360.34 181.57L360.69 183.15L361.04 183.65L361.39 182.5L361.75 184.18L362.1 182.11L362.45 187.16L362.8 186.34L363.15 185.07L363.5 184.34L363.85 186.84L364.2 184.38L364.55 186.32L364.9 188.91L365.25 188.51L365.6 188.24L365.95 190.82L366.3 188.49L366.65 190.95L367 190.33L367.35 190.35L367.7 192.94L368.05 191.25L368.4 196.46L368.75 193.07L369.1 197.93L369.45 193.4L369.8 196.91L370.15 194.39L370.5 194.72L370.85 198.01L371.2 199.58L371.55 196.53L371.9 201.78L372.25 198.55L372.6 200.92L372.95 201.99L373.3 203.01L373.65 198.64L374 206.35L374.35 204.71L374.7 203.14L375.05 202.36L375.4 201.36L375.75 202.59L376.1 207.49L376.45 205.93L376.81 204.52L377.16 206.41L377.51 211.96L377.86 207.76L378.21 207.57L378.56 212.93L378.91 211.13L379.26 210.5L379.61 209.21L379.96 207.08L380.31 208.48L380.66 210.73L381.01 211.81L381.36 213.76L381.71 214.65L382.06 214.02L382.41 214.28L382.76 210.96L383.11 207.8L383.46 212.71L383.81 211.6L384.16 212.65L384.51 213.92L384.86 211.2L385.21 211.73L385.56 214.91L385.91 215.71L386.26 213.52L386.61 217.17L386.96 215.12L387.31 212.8L387.66 216.19L388.01 222.01L388.36 214.23L388.71 220.07L389.06 220.87L389.41 221.38L389.76 214.21L390.11 223.26L390.46 217.38L390.81 216.32L391.16 216.49L391.52 219.25L391.87 217.59L392.22 216.95L392.57 221.74L392.92 215.37L393.27 214.41L393.62 220.44L393.97 220.24L394.32 221.59L394.67 214.61L395.02 221.72L395.37 219.83L395.72 224.11L396.07 214.28L396.42 219.18L396.77 217.6L397.12 213.32L397.47 216.27L397.82 222.44L398.17 217.19L398.52 216.39L398.87 221.75L399.22 222.2L399.57 222.25L399.92 216.35L400.27 218.84L400.62 222.54L400.97 216.91L401.32 216.64L401.67 222L402.02 224.52L402.37 215.4L402.72 210.55L403.07 214.46L403.42 215.98L403.77 218.99L404.12 221.59L404.47 219.04L404.82 217.19L405.17 220.14L405.52 216.37L405.87 219.53L406.23 217.54L406.58 228.95L406.93 222.61L407.28 216.98L407.63 216.46L407.98 218.42L408.33 214.3L408.68 217.48L409.03 217.49L409.38 223.13L409.73 218.64L410.08 217.41L410.43 215.54L410.78 216.14L411.13 220.03L411.48 219.54L411.83 224.27L412.18 218.17L412.53 224.09L412.88 221.33L413.23 220.45L413.58 213.47L413.93 216.01L414.28 223.16L414.63 225.5L414.98 221.35L415.33 223.34L415.68 219.26L416.03 219.41L416.38 218.42L416.73 224.22L417.08 222.02L417.43 220.02L417.78 219.71L418.13 222.87L418.48 222.07L418.83 218.01L419.18 227.07L419.53 221.93L419.88 221.08L420.23 226.32L420.58 224.74L420.94 220.81L421.29 223.06L421.64 217.36L421.99 218.91L422.34 213.15L422.69 225.61L423.04 214.48L423.39 223.74L423.74 218.35L424.09 217.84L424.44 220.67L424.79 222.35L425.14 223.61L425.49 227.8L425.84 222.75L426.19 224.65L426.54 219.34L426.89 224.09L427.24 222.09L427.59 219.89L427.94 221.23L428.29 221.37L428.64 222.31L428.99 223.08L429.34 219.81L429.69 218.99L430.04 224.39L430.39 215.56L430.74 219.48L431.09 227.36L431.44 211.93L431.79 219.25L432.14 224.27L432.49 215.8L432.84 231.24L433.19 212.41L433.54 227.05L433.89 227.5L434.24 225.19L434.59 221.06L434.94 223.18L435.29 218.62L435.65 224.84L436 217.83L436.35 220.92L436.7 225.55L437.05 217.87L437.4 220.61L437.75 222.55L438.1 217.06L438.45 226.21L438.8 223.21L439.15 216.44L439.5 221.8L439.85 219.15L440.2 219.58L440.55 222.27L440.9 219.4L441.25 225.52L441.6 219.42L441.95 225.58L442.3 221.84L442.65 225.13L443 220.02"/>
<path stroke="#00ff00" d="M73.5 213.49L73.85 211.5L74.2 216.59L74.55 217.59L74.9 221.02L75.25 218.49L75.6 215.35L75.95 213.93L76.3 215.63L76.65 214.34L77 218.65L77.35 217.06L77.7 211.79L78.05 212.17L78.4 218.09L78.75 214.95L79.1 213.32L79.45 217.36L79.8 212.75L80.15 213L80.5 212.42L80.85 208.05L81.21 216.11L81.56 210.11L81.91 211.89L82.26 211.33L82.61 215.47L82.96 213.15L83.31 213.33L83.66 208.46L84.01 212.92L84.36 208.94L84.71 213.92L85.06 214.03L85.41 212.9L85.76 218.63L86.11 214.31L86.46 214.45L86.81 213.12L87.16 212.13L87.51 215.31L87.86 215.63L88.21 208.89L88.56 215.38L88.91 213.83L89.26 215.01L89.61 213.59L89.96 208.82L90.31 208.97L90.66 217.16L91.01 212.79L91.36 208.16L91.71 212.94L92.06 210.95L92.41 206.86L92.76 205.6L93.11 207.43L93.46 212.48L93.81 211.56L94.16 210.97L94.51 212.37L94.86 213.17L95.21 205.83L95.56 210.64L95.92 209.18L96.27 208.04L96.62 209.84L96.97 210.94L97.32 210.51L97.67 207.28L98.02 209.84L98.37 216.46L98.72 208.23L99.07 206.51L99.42 211.68L99.77 212.49L100.12 212.1L100.47 207.87L100.82 213.43L101.17 208.68L101.52 207.73L101.87 209.09L102.22 210.37L102.57 212.51L102.92 212.24L103.27 210.51L103.62 212.98L103.97 210.72L104.32 212.82L104.67 206.77L105.02 206.3L105.37 212.42L105.72 206.73L106.07 209.54L106.42 210.04L106.77 208.99L107.12 209.05L107.47 213.82L107.82 203.59L108.17 212.42L108.52 216.03L108.87 210.11L109.22 209.95L109.57 211.83L109.92 214.63L110.27 206.81L110.63 210.04L110.98 209.28L111.33 211.14L111.68 210.06L112.03 211.27L112.38 208.45L112.73 209.58L113.08 207.67L113.43 207.58L113.78 208.79L114.13 208.66L114.48 205.95L114.83 212.64L115.18 208.23L115.53 204.98L115.88 210.92L116.23 206.21L116.58 209.08L116.93 207.61L117.28 208.06L117.63 207.67L117.98 205.7L118.33 206.97L118.68 211.46L119.03 201.27L119.38 206.46L119.73 207.14L120.08 203.54L120.43 202.66L120.78 210.54L121.13 204.61L121.48 209.97L121.83 206.31L122.18 205.11L122.53 205.83L122.88 206L123.23 207.02L123.58 205.21L123.93 204.39L124.28 204.29L124.63 206.65L124.98 205.31L125.34 201.24L125.69 201.86L126.04 203.73L126.39 201.54L126.74 201.89L127.09 200.51L127.44 201.78L127.79 203.01L128.14 204L128.49 201.8L128.84 205.81L129.19 201.27L129.54 207.65L129.89 203.06L130.24 201.86L130.59 199.71L130.94 194.97L131.29 200.05L131.64 200.54L131.99 203.75L132.34 197.2L132.69 203.36L133.04 199.06L133.39 200.76L133.74 194.41L134.09 199.32L134.44 198.25L134.79 200.01L135.14 198.74L135.49 196.29L135.84 199.97L136.19 199.33L136.54 198.96L136.89 199.52L137.24 199.49L137.59 197.27L137.94 194.69L138.29 194.44L138.64 199.06L138.99 197.7L139.34 196.4L139.69 195.24L140.05 195.79L140.4 195.52L140.75 194.64L141.1 193.75L141.45 198.17L141.8 194.57L142.15 192.77L142.5 191.19L142.85 191.62L143.2 193.34L143.55 192.84L143.9 190.81L144.25 190.67L144.6 189.62L144.95 187.97L145.3 190.93L145.65 189.18L146 191.7L146.35 186.92L146.7 187.48L147.05 188.55L147.4 186.74L147.75 184.93L148.1 185.23L148.45 186.32L148.8 186.34L149.15 185.5L149.5 186.62L149.85 186.33L150.2 185.22L150.55 184.61L150.9 184.03L151.25 184.79L151.6 185.02L151.95 183.78L152.3 184.07L152.65 182.98L153 181.54L153.35 181.91L153.7 183.9L154.05 183.44L154.4 184.73L154.75 182.88L155.11 183.82L155.46 184.36L155.81 183.97L156.16 182.08L156.51 182.58L156.86 182.95L157.21 181.64L157.56 183.36L157.91 184.01L158.26 182.23L158.61 185.13L158.96 182.46L159.31 182.56L159.66 182.52L160.01 181.96L160.36 183.29L160.71 182.82L161.06 184.76L161.41 183.52L161.76 183.43L162.11 182.54L162.46 181.13L162.81 182.69L163.16 181.8L163.51 183.92L163.86 182.76L164.21 184.76L164.56 183.67L164.91 183.79L165.26 183.07L165.61 183.05L165.96 183.56L166.31 183.86L166.66 181.9L167.01 183.27L167.36 185.7L167.71 182.45L168.06 182.18L168.41 181.58L168.76 180.61L169.11 183.57L169.46 182.15L169.82 182.32L170.17 183.97L170.52 184.6L170.87 180.6L171.22 182.68L171.57 182.07L171.92 181.69L172.27 181.65L172.62 180.97L172.97 182.65L173.32 181.43L173.67 180.99L174.02 181.83L174.37 181.29L174.72 180.65L175.07 180.34L175.42 181.72L175.77 180.19L176.12 179.37L176.47 178.37L176.82 178.73L177.17 177.8L177.52 178.82L177.87 178.78L178.22 176.19L178.57 178.13L178.92 178.57L179.27 177.87L179.62 176.52L179.97 178.55L180.32 176.37L180.67 175.62L181.02 175.55L181.37 176.37L181.72 177.1L182.07 177.03L182.42 175.85L182.77 174.26L183.12 174.52L183.47 174.04L183.82 174.45L184.17 172.71L184.53 174.18L184.88 174.39L185.23 173.39L185.58 173.65L185.93 172.11L186.28 171.38L186.63 171.81L186.98 173.07L187.33 172.67L187.68 171.11L188.03 172.24L188.38 170.67L188.73 171.91L189.08 170.77L189.43 169.71L189.78 170.43L190.13 168.85L190.48 168.41L190.83 167.68L191.18 168.67L191.53 168.06L191.88 167.66L192.23 167L192.58 167.94L192.93 166.1L193.28 165.4L193.63 166.3L193.98 165.82L194.33 164.36L194.68 162.16L195.03 162.04L195.38 161.86L195.73 160.44L196.08 160.28L196.43 157.42L196.78 157.38L197.13 155.26L197.48 154.75L197.83 152.43L198.18 151.35L198.53 149.01L198.88 147.24L199.24 145.99L199.59 144.83L199.94 143.27L200.29 142.6L200.64 141.16L200.99 139.44L201.34 137.65L201.69 136.44L202.04 134.48L202.39 132.86L202.74 129.71L203.09 123.49L203.44 118.56L203.79 115.49L204.14 113.47L204.49 111.28L204.84 109.02L205.19 106.28L205.54 103.36L205.89 100.54L206.24 97.83L206.59 94.68L206.94 91.83L207.29 89.1L207.64 86.4L207.99 83.9L208.34 81.62L208.69 79.57L209.04 77.42L209.39 75.7L209.74 73.99L210.09 72.34L210.44 70.74L210.79 69.16L211.14 67.63L211.49 65.94L211.84 64.29L212.19 62.61L212.54 60.96L212.89 59.36L213.24 57.91L213.59 56.52L213.95 55.28L214.3 54.08L214.65 52.92L215 51.84L215.35 50.79L215.7 49.83L216.05 48.85L216.4 47.92L216.75 47.08L217.1 46.24L217.45 45.34L217.8 44.59L218.15 43.73L218.5 42.93L218.85 42.18L219.2 41.42L219.55 40.7L219.9 40.08L220.25 39.4L220.6 38.85L220.95 38.36L221.3 37.88L221.65 37.48L222 37.07L222.35 36.69L222.7 36.23L223.05 35.87L223.4 35.54L223.75 35.23L224.1 34.96L224.45 34.79L224.8 34.65L225.15 34.61L225.5 34.63L225.85 34.67L226.2 34.73L226.55 34.82L226.9 34.91L227.25 35.07L227.6 35.23L227.95 35.4L228.3 35.6L228.65 35.8L229.01 36.06L229.36 36.31L229.71 36.51L230.06 36.77L230.41 37.06L230.76 37.48L231.11 37.95L231.46 38.5L231.81 39.11L232.16 39.77L232.51 40.45L232.86 41.19L233.21 41.89L233.56 42.64L233.91 43.4L234.26 44.25L234.61 45.1L234.96 46.03L235.31 46.95L235.66 47.98L236.01 48.98L236.36 50.05L236.71 51.13L237.06 52.29L237.41 53.39L237.76 54.71L238.11 55.96L238.46 57.41L238.81 58.72L239.16 60.23L239.51 61.76L239.86 63.53L240.21 65.13L240.56 66.97L240.91 68.78L241.26 70.6L241.61 72.58L241.96 74.58L242.31 76.51L242.66 78.64L243.01 80.7L243.36 82.92L243.72 85.09L244.07 87.35L244.42 89.64L244.77 91.65L245.12 93.8L245.47 95.89L245.82 98.03L246.17 100.38L246.52 102.16L246.87 104.16L247.22 106.14L247.57 107.86L247.92 109.89L248.27 110.93L248.62 113.07L248.97 114.95L249.32 116.66L249.67 118.98L250.02 121.54L250.37 124.15L250.72 125.82L251.07 127.65L251.42 129.93L251.77 131.36L252.12 131.91L252.47 132.28L252.82 134.14L253.17 134.5L253.52 135.81L253.87 136.54L254.22 137.78L254.57 139.5L254.92 142.19L255.27 144.33L255.62 145.01L255.97 147.39L256.32 150.17L256.67 150.37L257.02 150.95L257.37 152.6L257.72 153.49L258.07 154.39L258.43 155.03L258.78 155.92L259.13 156.59L259.48 157.76L259.83 157.78L260.18 158.74L260.53 159.44L260.88 160.92L261.23 160.93L261.58 161.17L261.93 162.11L262.28 162.55L262.63 163.5L262.98 163.61L263.33 164.96L263.68 165.13L264.03 164.62L264.38 164.8L264.73 166.15L265.08 166.31L265.43 166.28L265.78 165.65L266.13 165.76L266.48 167.78L266.83 168.48L267.18 168.87L267.53 167.6L267.88 169.78L268.23 168.87L268.58 169.95L268.93 170.3L269.28 169.63L269.63 170.12L269.98 169.19L270.33 170.46L270.68 170.01L271.03 172.22L271.38 172.2L271.73 173.24L272.08 173.05L272.43 172.47L272.78 173.64L273.14 173.26L273.49 174.46L273.84 174.49L274.19 173.57L274.54 174.78L274.89 175.12L275.24 175.07L275.59 176.51L275.94 177.6L276.29 175.86L276.64 176.16L276.99 174.55L277.34 176.93L277.69 176.9L278.04 175.41L278.39 178.17L278.74 178.75L279.09 177.65L279.44 178.28L279.79 177.91L280.14 180L280.49 177.82L280.84 179.36L281.19 182.07L281.54 180.25L281.89 180.96L282.24 180.52L282.59 179.61L282.94 181.12L283.29 181.85L283.64 180.46L283.99 182.25L284.34 183.52L284.69 183.55L285.04 180.67L285.39 181.59L285.74 181.04L286.09 184.44L286.44 184.11L286.79 184.43L287.14 182.72L287.49 182.57L287.85 184.31L288.2 184.57L288.55 183.62L288.9 185.09L289.25 185.96L289.6 185.67L289.95 184.28L290.3 183.11L290.65 185.71L291 186.46L291.35 186.09L291.7 186.04L292.05 185.85L292.4 187.85L292.75 186.94L293.1 187.26L293.45 185.86L293.8 186.36L294.15 187.42L294.5 185.81L294.85 185.4L295.2 186.53L295.55 188.41L295.9 186.89L296.25 188.34L296.6 186.03L296.95 185.54L297.3 183.87L297.65 184.63L298 186.84L298.35 185.12L298.7 185.27L299.05 184.87L299.4 183.64L299.75 183.04L300.1 183.06L300.45 183.34L300.8 182.72L301.15 182.39L301.5 181.65L301.85 180.27L302.2 180.51L302.55 179.45L302.91 181.29L303.26 177.63L303.61 179.38L303.96 181.86L304.31 178.65L304.66 177.52L305.01 178.38L305.36 179.42L305.71 177.62L306.06 178.09L306.41 177.25L306.76 176.47L307.11 179.62L307.46 176.27L307.81 175.36L308.16 175.09L308.51 175.6L308.86 175.31L309.21 175.32L309.56 174.42L309.91 172.67L310.26 174.14L310.61 173.07L310.96 172.79L311.31 171.43L311.66 171.93L312.01 171.5L312.36 171.8L312.71 170.3L313.06 171.3L313.41 171.07L313.76 169.76L314.11 169.9L314.46 169.44L314.81 170.62L315.16 167.59L315.51 169.1L315.86 167.8L316.21 168.52L316.56 169.27L316.91 167.86L317.26 168.21L317.62 167.21L317.97 169.1L318.32 168.09L318.67 168.04L319.02 165.99L319.37 165.98L319.72 167.43L320.07 166.33L320.42 166.13L320.77 166.41L321.12 165.1L321.47 166.42L321.82 165.73L322.17 165.91L322.52 164.94L322.87 165.65L323.22 164.65L323.57 165.69L323.92 165.69L324.27 165.41L324.62 165.03L324.97 165.01L325.32 162.6L325.67 164.98L326.02 164.14L326.37 164.34L326.72 164.04L327.07 163.25L327.42 163.83L327.77 164.65L328.12 165.18L328.47 163.78L328.82 163.59L329.17 165.22L329.52 163.62L329.87 165.67L330.22 164.29L330.57 163.66L330.92 164.97L331.27 165.48L331.62 163.33L331.97 165.42L332.33 164.17L332.68 165.42L333.03 164.15L333.38 163.35L333.73 164.82L334.08 165.14L334.43 165.99L334.78 165.76L335.13 165.07L335.48 164.45L335.83 164.29L336.18 164.48L336.53 164.14L336.88 164.58L337.23 163.05L337.58 165.04L337.93 164.97L338.28 166.91L338.63 165.73L338.98 164.97L339.33 165.84L339.68 164.69L340.03 165.27L340.38 164.5L340.73 167.05L341.08 166.6L341.43 165.47L341.78 166.46L342.13 167.38L342.48 167.22L342.83 167.32L343.18 166.57L343.53 166.92L343.88 167.67L344.23 168.49L344.58 167.34L344.93 167.3L345.28 169.25L345.63 167.83L345.98 169.63L346.33 169.2L346.68 169.94L347.04 170.89L347.39 170.31L347.74 170.65L348.09 169.54L348.44 170.01L348.79 171.43L349.14 172.49L349.49 172.7L349.84 173.84L350.19 172.45L350.54 172.71L350.89 173.8L351.24 173.31L351.59 173.64L351.94 173.16L352.29 175.5L352.64 174.04L352.99 176.05L353.34 174.71L353.69 177.73L354.04 176.21L354.39 178.8L354.74 177.05L355.09 179.09L355.44 181.78L355.79 180.53L356.14 182.52L356.49 182.88L356.84 181.62L357.19 185.89L357.54 187.06L357.89 185.96L358.24 189.16L358.59 188.09L358.94 188.58L359.29 190.85L359.64 190.6L359.99 195.98L360.34 190.71L360.69 195.14L361.04 196.33L361.39 192.08L361.75 193.18L362.1 197.92L362.45 196.8L362.8 199.13L363.15 201.33L363.5 199.22L363.85 198.59L364.2 195.92L364.55 202.55L364.9 200.86L365.25 204.13L365.6 204.61L365.95 201.69L366.3 209.32L366.65 208.57L367 208.7L367.35 204.5L367.7 206.95L368.05 207.18L368.4 208.05L368.75 206.75L369.1 211.25L369.45 211.18L369.8 211.97L370.15 210.01L370.5 215.19L370.85 212.5L371.2 204.72L371.55 210.78L371.9 212.66L372.25 215.81L372.6 212.47L372.95 212.84L373.3 211.86L373.65 215.91L374 212.87L374.35 212.58L374.7 212.33L375.05 216.31L375.4 213.22L375.75 209.93L376.1 216.89L376.45 213.03L376.81 216.31L377.16 216.46L377.51 219.07L377.86 218.69L378.21 213.87L378.56 215.2L378.91 211.85L379.26 221.02L379.61 217.32L379.96 220.34L380.31 215.15L380.66 209.88L381.01 221.04L381.36 216.66L381.71 216.86L382.06 216.7L382.41 218.61L382.76 218.34L383.11 211.75L383.46 220.22L383.81 215.21L384.16 215.47L384.51 222.47L384.86 219.98L385.21 216.06L385.56 211.29L385.91 217.76L386.26 219.03L386.61 217.11L386.96 213.43L387.31 214.94L387.66 213.5L388.01 218.28L388.36 220.28L388.71 221L389.06 215.37L389.41 218.55L389.76 219.63L390.11 216.23L390.46 217.45L390.81 224.88L391.16 218.69L391.52 220.95L391.87 216.69L392.22 218.29L392.57 212.58L392.92 218.15L393.27 222.19L393.62 225.21L393.97 222.29L394.32 220.66L394.67 218.61L395.02 216.5L395.37 217.99L395.72 220.58L396.07 215.99L396.42 221.72L396.77 215.4L397.12 212.79L397.47 215.37L397.82 213.23L398.17 214.24L398.52 222.62L398.87 218.22L399.22 219.65L399.57 222.83L399.92 223.21L400.27 217.34L400.62 223.52L400.97 220.39L401.32 219.15L401.67 220.66L402.02 214.4L402.37 216.59L402.72 218.91L403.07 221.37L403.42 218.09L403.77 218.95L404.12 222.71L404.47 224.25L404.82 222.1L405.17 223.84L405.52 218.18L405.87 218.55L406.23 220.72L406.58 218.64L406.93 217.97L407.28 225.39L407.63 219.08L407.98 216.49L408.33 221.51L408.68 226.18L409.03 220.18L409.38 224.18L409.73 218.47L410.08 218.31L410.43 217.66L410.78 219.58L411.13 226.46L411.48 216.14L411.83 225.85L412.18 216.71L412.53 219.43L412.88 223.18L413.23 222.5L413.58 221.32L413.93 214.62L414.28 221.66L414.63 216.86L414.98 229.44L415.33 219.75L415.68 221.19L416.03 216.54L416.38 218.91L416.73 216.09L417.08 224.1L417.43 219.76L417.78 222.69L418.13 218.33L418.48 219L418.83 225.34L419.18 217.39L419.53 214.49L419.88 222.32L420.23 216.87L420.58 219.38L420.94 224.2L421.29 218.09L421.64 224.14L421.99 218.63L422.34 226.37L422.69 225.82L423.04 219.45L423.39 220.39L423.74 218.21L424.09 221.92L424.44 225.33L424.79 216.08L425.14 224.56L425.49 216.56L425.84 218.24L426.19 214.94L426.54 228.92L426.89 221.6L427.24 222.29L427.59 219L427.94 225.29L428.29 213.91L428.64 221.59L428.99 229.47L429.34 220.16L429.69 221.62L430.04 224L430.39 218.67L430.74 221.7L431.09 225.11L431.44 222.35L431.79 223.01L432.14 220.42L432.49 222.85L432.84 221.92L433.19 227.01L433.54 224.38L433.89 220.88L434.24 212.9L434.59 224.39L434.94 224.55L435.29 218.49L435.65 214.57L436 217.7L436.35 225.23L436.7 218L437.05 220.21L437.4 222.7L437.75 226.36L438.1 221.85L438.45 221.56L438.8 219.93L439.15 227.89L439.5 225.84L439.85 221.61L440.2 216.87L440.55 219.08L440.9 224.09L441.25 219.35L441.6 225.24L441.95 223.31L442.3 223.06L442.65 224.38L443 223.82"/>
<path stroke="#0000ff" d="M73.5 213.37L73.85 214.97L74.2 223.12L74.55 212.21L74.9 214.42L75.25 219.09L75.6 215.3L75.95 213.27L76.3 211.66L76.65 217.27L77 218.68L77.35 219.77L77.7 215.63L78.05 218.55L78.4 212.22L78.75 215.77L79.1 213.16L79.45 215.63L79.8 217.28L80.15 218.15L80.5 211.93L80.85 218.55L81.21 213.3L81.56 211.59L81.91 214.03L82.26 210.15L82.61 214.36L82.96 215.1L83.31 213.58L83.66 215.62L84.01 213.06L84.36 213.88L84.71 209.62L85.06 213.8L85.41 211.13L85.76 212.19L86.11 213.1L86.46 213.8L86.81 208.48L87.16 208.61L87.51 212.04L87.86 214.08L88.21 213.62L88.56 214.94L88.91 215.91L89.26 213.52L89.61 211.94L89.96 209.01L90.31 209.09L90.66 210.22L91.01 212.02L91.36 211.71L91.71 210.94L92.06 210.34L92.41 212.21L92.76 210.91L93.11 210.94L93.46 210.77L93.81 208.38L94.16 206.95L94.51 210.64L94.86 210.25L95.21 208.45L95.56 207.77L95.92 214.27L96.27 206.54L96.62 207.69L96.97 208.69L97.32 205.05L97.67 207.95L98.02 211.81L98.37 209.54L98.72 208.64L99.07 208.37L99.42 207.06L99.77 208.88L100.12 206.1L100.47 205.32L100.82 206.38L101.17 208.06L101.52 206.57L101.87 207.19L102.22 200.9L102.57 208.03L102.92 210.44L103.27 208.01L103.62 204.15L103.97 202.82L104.32 205.16L104.67 202.22L105.02 205.82L105.37 202.93L105.72 206L106.07 206.7L106.42 199.24L106.77 204.07L107.12 201.8L107.47 200.14L107.82 201.67L108.17 202.35L108.52 204.81L108.87 199.32L109.22 204.5L109.57 206.33L109.92 203.23L110.27 202.95L110.63 201.65L110.98 199.13L111.33 202.42L111.68 201.94L112.03 202.46L112.38 205.93L112.73 202.1L113.08 201.32L113.43 203.36L113.78 197.52L114.13 197.74L114.48 199.05L114.83 198.34L115.18 200.73L115.53 198.62L115.88 202.3L116.23 201.68L116.58 200.07L116.93 197.72L117.28 199.36L117.63 199.51L117.98 195.87L118.33 198.23L118.68 198.66L119.03 197.57L119.38 199.75L119.73 198.89L120.08 195.09L120.43 196.53L120.78 194.65L121.13 196.88L121.48 194.18L121.83 197.02L122.18 195.89L122.53 196.65L122.88 194.57L123.23 192.18L123.58 197.29L123.93 193.89L124.28 196.21L124.63 194.46L124.98 194.65L125.34 196.29L125.69 193.71L126.04 195.2L126.39 190.46L126.74 193.97L127.09 192.05L127.44 192.05L127.79 192.1L128.14 192.45L128.49 194.28L128.84 188.77L129.19 191.49L129.54 190.19L129.89 192.85L130.24 190.32L130.59 191.47L130.94 190.04L131.29 191.45L131.64 191.8L131.99 189.57L132.34 190.06L132.69 187.77L133.04 190.09L133.39 190.7L133.74 188.51L134.09 190.71L134.44 186.02L134.79 186.16L135.14 186.63L135.49 187.69L135.84 188.18L136.19 187.84L136.54 187.64L136.89 188.48L137.24 186.64L137.59 185.35L137.94 185.14L138.29 189.3L138.64 183.2L138.99 185.76L139.34 187.58L139.69 186.04L140.05 184.08L140.4 184.83L140.75 185.59L141.1 185.69L141.45 182.8L141.8 184.48L142.15 183.54L142.5 184.2L142.85 184.18L143.2 181.81L143.55 180.19L143.9 181.95L144.25 183.14L144.6 181.54L144.95 180.66L145.3 182.65L145.65 178.54L146 180.23L146.35 178.26L146.7 178.49L147.05 178.08L147.4 179.07L147.75 176.13L148.1 176.06L148.45 174.55L148.8 176.08L149.15 174.68L149.5 175L149.85 173.13L150.2 173.29L150.55 174.05L150.9 172.48L151.25 172.7L151.6 172.14L151.95 170.94L152.3 169.49L152.65 171.18L153 170.09L153.35 170.34L153.7 167.55L154.05 167.47L154.4 166.72L154.75 167.33L155.11 168.42L155.46 167.68L155.81 166.85L156.16 166.59L156.51 166.66L156.86 165.49L157.21 165.59L157.56 165L157.91 162.95L158.26 163.78L158.61 164.51L158.96 162.86L159.31 162.55L159.66 161.77L160.01 161.37L160.36 161.9L160.71 160.52L161.06 159.55L161.41 157.78L161.76 158.78L162.11 157.42L162.46 156.96L162.81 157.88L163.16 157.22L163.51 155.15L163.86 156.02L164.21 155.14L164.56 153.8L164.91 153.86L165.26 151.92L165.61 151.31L165.96 150.31L166.31 149.52L166.66 149.42L167.01 147.42L167.36 146.45L167.71 145.48L168.06 144.88L168.41 143.59L168.76 142.92L169.11 141.19L169.46 139.82L169.82 138.89L170.17 137.84L170.52 136.3L170.87 135.45L171.22 134.68L171.57 132.77L171.92 131.69L172.27 130.72L172.62 128.82L172.97 127.3L173.32 125.64L173.67 124.2L174.02 122.09L174.37 119.54L174.72 116.94L175.07 114.37L175.42 111.47L175.77 108.36L176.12 105.87L176.47 103.4L176.82 101.26L177.17 99.17L177.52 97.27L177.87 95.53L178.22 93.72L178.57 92.21L178.92 90.5L179.27 88.89L179.62 87.02L179.97 85.26L180.32 83.4L180.67 81.56L181.02 79.81L181.37 77.86L181.72 76L182.07 73.93L182.42 71.79L182.77 69.48L183.12 67.53L183.47 65.99L183.82 64.77L184.17 63.6L184.53 62.57L184.88 61.7L185.23 60.91L185.58 60.29L185.93 59.72L186.28 59.13L186.63 58.59L186.98 58.1L187.33 57.6L187.68 57.17L188.03 56.77L188.38 56.36L188.73 55.97L189.08 55.61L189.43 55.35L189.78 55.09L190.13 54.91L190.48 54.68L190.83 54.54L191.18 54.44L191.53 54.27L191.88 54.15L192.23 54.09L192.58 53.96L192.93 53.83L193.28 53.72L193.63 53.58L193.98 53.54L194.33 53.44L194.68 53.37L195.03 53.28L195.38 53.24L195.73 53.19L196.08 53.16L196.43 53.17L196.78 53.12L197.13 53.05L197.48 53.08L197.83 53.12L198.18 53.23L198.53 53.39L198.88 53.53L199.24 53.68L199.59 53.92L199.94 54.12L200.29 54.35L200.64 54.61L200.99 54.91L201.34 55.28L201.69 55.5L202.04 55.9L202.39 56.22L202.74 56.58L203.09 57.07L203.44 57.63L203.79 58.3L204.14 59.03L204.49 59.76L204.84 60.57L205.19 61.39L205.54 62.18L205.89 62.99L206.24 63.78L206.59 64.57L206.94 65.27L207.29 66.1L207.64 66.87L207.99 67.62L208.34 68.56L208.69 69.23L209.04 70.06L209.39 70.94L209.74 71.67L210.09 72.56L210.44 73.35L210.79 74.22L211.14 75.09L211.49 75.94L211.84 76.81L212.19 77.62L212.54 78.48L212.89 79.29L213.24 80.09L213.59 81.07L213.95 81.88L214.3 82.81L214.65 83.92L215 84.84L215.35 85.8L215.7 86.86L216.05 87.9L216.4 88.77L216.75 89.93L217.1 90.91L217.45 92.1L217.8 93.13L218.15 94.43L218.5 95.5L218.85 96.55L219.2 97.82L219.55 98.9L219.9 100.25L220.25 101.53L220.6 102.73L220.95 103.68L221.3 105.08L221.65 106.39L222 107.54L222.35 108.84L222.7 109.73L223.05 111.25L223.4 112.33L223.75 113.7L224.1 114.95L224.45 116.16L224.8 117.03L225.15 118.17L225.5 118.82L225.85 119.55L226.2 120.62L226.55 121.14L226.9 121.41L227.25 122.11L227.6 122.82L227.95 123.67L228.3 124.09L228.65 124.59L229.01 124.6L229.36 125.58L229.71 126.31L230.06 126.9L230.41 127.51L230.76 127.96L231.11 129.06L231.46 129.61L231.81 129.83L232.16 130.21L232.51 131.63L232.86 131.55L233.21 132.66L233.56 133.49L233.91 133.31L234.26 134.29L234.61 134.74L234.96 135.63L235.31 136.22L235.66 137.37L236.01 137.6L236.36 138.06L236.71 139.09L237.06 139.29L237.41 139.92L237.76 141.5L238.11 141.1L238.46 141.91L238.81 142.83L239.16 143.16L239.51 143.5L239.86 145.51L240.21 145.55L240.56 146.43L240.91 147.28L241.26 147.79L241.61 148.52L241.96 149.84L242.31 151.64L242.66 151.62L243.01 152.36L243.36 151.95L243.72 153.36L244.07 153.41L244.42 155.03L244.77 155.08L245.12 155.76L245.47 156.22L245.82 156.45L246.17 156.41L246.52 158.09L246.87 157.43L247.22 158L247.57 158.97L247.92 159.17L248.27 160.19L248.62 161.08L248.97 161.03L249.32 161.41L249.67 161.7L250.02 162.64L250.37 161.25L250.72 163.09L251.07 162.59L251.42 162.75L251.77 163.95L252.12 164.04L252.47 165.07L252.82 165.79L253.17 163.69L253.52 165.64L253.87 167.45L254.22 166.99L254.57 167.76L254.92 167.08L255.27 166.23L255.62 166.77L255.97 168.48L256.32 168.98L256.67 167.96L257.02 168.61L257.37 169.32L257.72 167.99L258.07 169.39L258.43 171.27L258.78 172.02L259.13 170.41L259.48 172.29L259.83 170.58L260.18 170.6L260.53 169.63L260.88 172.62L261.23 171.73L261.58 174.34L261.93 172.84L262.28 172.96L262.63 171.43L262.98 174.63L263.33 173.21L263.68 173.64L264.03 172.01L264.38 175.15L264.73 175.47L265.08 174.23L265.43 175.14L265.78 175.67L266.13 176.47L266.48 175.89L266.83 177.7L267.18 176.02L267.53 175.89L267.88 176.24L268.23 174.39L268.58 176.31L268.93 178.33L269.28 177.77L269.63 176.84L269.98 178.2L270.33 175.92L270.68 177.84L271.03 178.8L271.38 179.09L271.73 177.67L272.08 179.54L272.43 180.65L272.78 178.35L273.14 179.68L273.49 177.36L273.84 177.02L274.19 179.86L274.54 179.35L274.89 179.61L275.24 178.85L275.59 179.25L275.94 180.52L276.29 181.58L276.64 179.56L276.99 178.06L277.34 181.3L277.69 180.63L278.04 180.76L278.39 180.26L278.74 182.63L279.09 180.2L279.44 180.7L279.79 178.11L280.14 179.51L280.49 179.37L280.84 180.06L281.19 180.42L281.54 179.17L281.89 181.79L282.24 178.66L282.59 179.23L282.94 179.87L283.29 178.15L283.64 179.98L283.99 179.91L284.34 178.79L284.69 180.98L285.04 178.91L285.39 178.97L285.74 177.53L286.09 176.65L286.44 177.6L286.79 177.79L287.14 177.52L287.49 178.65L287.85 175.31L288.2 176.48L288.55 175.68L288.9 178.81L289.25 176.79L289.6 176.76L289.95 176.08L290.3 178L290.65 176.59L291 177.14L291.35 174.8L291.7 177.89L292.05 177.03L292.4 177.09L292.75 177.68L293.1 176.19L293.45 176.13L293.8 176.92L294.15 176.56L294.5 175.84L294.85 176.06L295.2 175.47L295.55 176.6L295.9 176.76L296.25 175.83L296.6 177.61L296.95 174.28L297.3 175.53L297.65 177.4L298 175.35L298.35 174.22L298.7 177.12L299.05 176.31L299.4 174.64L299.75 176.57L300.1 174.85L300.45 174.56L300.8 175.74L301.15 175.45L301.5 174.88L301.85 175.63L302.2 175.05L302.55 176.12L302.91 176.08L303.26 176.88L303.61 175.75L303.96 174.94L304.31 175.01L304.66 176.11L305.01 177.92L305.36 177.31L305.71 175.9L306.06 177.52L306.41 175.5L306.76 177.74L307.11 176.46L307.46 177.75L307.81 177.77L308.16 177.05L308.51 177.87L308.86 176.66L309.21 177.9L309.56 179.35L309.91 182.75L310.26 179.46L310.61 179.07L310.96 178.15L311.31 180.62L311.66 177.93L312.01 179.08L312.36 180.58L312.71 179.08L313.06 182.37L313.41 182.11L313.76 180.49L314.11 180.74L314.46 180.1L314.81 180.25L315.16 182.63L315.51 183.1L315.86 183.04L316.21 183.2L316.56 182.48L316.91 183.86L317.26 181.9L317.62 183.98L317.97 186.07L318.32 186.19L318.67 184.25L319.02 184.7L319.37 187.19L319.72 188.04L320.07 184.1L320.42 185.8L320.77 187L321.12 188.65L321.47 186.22L321.82 188.57L322.17 187.62L322.52 191.69L322.87 189.33L323.22 188.89L323.57 188.96L323.92 191.33L324.27 191.16L324.62 188.93L324.97 191.23L325.32 189.24L325.67 190.49L326.02 190.02L326.37 190.33L326.72 191.69L327.07 191.59L327.42 194.4L327.77 195.23L328.12 193.93L328.47 192.86L328.82 196.51L329.17 192.09L329.52 192.64L329.87 197.7L330.22 198.01L330.57 199.03L330.92 197.31L331.27 195.8L331.62 197.6L331.97 200.04L332.33 197.91L332.68 198.41L333.03 197.43L333.38 198.25L333.73 202.64L334.08 202.26L334.43 199.35L334.78 199.89L335.13 201.33L335.48 204.06L335.83 200.77L336.18 203.29L336.53 199.32L336.88 201.6L337.23 205.67L337.58 207.11L337.93 202.78L338.28 203.96L338.63 207.9L338.98 205.44L339.33 205.37L339.68 208.19L340.03 207.72L340.38 210.24L340.73 209.78L341.08 206.71L341.43 208.13L341.78 208.56L342.13 205.56L342.48 206.79L342.83 212.04L343.18 205.7L343.53 212.66L343.88 211.07L344.23 210.19L344.58 212.23L344.93 212.3L345.28 214.51L345.63 210.37L345.98 211.03L346.33 211.17L346.68 217.21L347.04 214.8L347.39 209.76L347.74 211.55L348.09 210.63L348.44 212.78L348.79 213.47L349.14 219.48L349.49 207.9L349.84 216.14L350.19 214.55L350.54 211.39L350.89 213.07L351.24 212.17L351.59 213.83L351.94 216.7L352.29 209.45L352.64 217.78L352.99 212.95L353.34 218.53L353.69 215.42L354.04 217.93L354.39 216.05L354.74 217.68L355.09 214.73L355.44 212.18L355.79 216.75L356.14 216.97L356.49 221.24L356.84 209.02L357.19 214.56L357.54 218.47L357.89 211.56L358.24 214.78L358.59 222.05L358.94 220.03L359.29 213.1L359.64 220.3L359.99 219.68L360.34 218.54L360.69 217.42L361.04 217.08L361.39 213.73L361.75 214.93L362.1 218.96L362.45 217.2L362.8 222.7L363.15 215.89L363.5 209.4L363.85 216.06L364.2 218.11L364.55 218.53L364.9 217.6L365.25 214.81L365.6 222.36L365.95 215.46L366.3 219.99L366.65 216.82L367 213.93L367.35 222.5L367.7 209.77L368.05 215.25L368.4 219.51L368.75 216.99L369.1 220.69L369.45 217.96L369.8 216.86L370.15 225.55L370.5 217.74L370.85 218.01L371.2 214.99L371.55 216.16L371.9 220.87L372.25 220.64L372.6 218.83L372.95 216.53L373.3 221.23L373.65 213.27L374 217.89L374.35 218.25L374.7 216.3L375.05 219.73L375.4 217L375.75 216.6L376.1 225.49L376.45 221.95L376.81 223.57L377.16 219.72L377.51 222.89L377.86 222.33L378.21 223.87L378.56 227.9L378.91 219.05L379.26 220.78L379.61 219.77L379.96 207.87L380.31 215.23L380.66 220.19L381.01 222.39L381.36 218.25L381.71 224.27L382.06 224.86L382.41 219L382.76 225.49L383.11 226.72L383.46 222.28L383.81 217.26L384.16 225.97L384.51 220.28L384.86 219.6L385.21 221.42L385.56 219.17L385.91 224.99L386.26 224.02L386.61 225.69L386.96 223.48L387.31 218.62L387.66 220.98L388.01 224.8L388.36 220.24L388.71 232.4L389.06 221L389.41 219.82L389.76 226.24L390.11 224.86L390.46 222.1L390.81 221.43L391.16 223.93L391.52 225.53L391.87 225.34L392.22 221.47L392.57 224.28L392.92 225.89L393.27 225.68L393.62 211.33L393.97 219.62L394.32 220.12L394.67 222.24L395.02 223.86L395.37 226.74L395.72 225.66L396.07 222.9L396.42 223.53L396.77 230.22L397.12 221.22L397.47 224.79L397.82 229.68L398.17 225.06L398.52 215.93L398.87 225.28L399.22 222.39L399.57 223.49L399.92 228.03L400.27 225.83L400.62 223.02L400.97 227.55L401.32 225.81L401.67 224.57L402.02 225.37L402.37 225.23L402.72 222.95L403.07 222.52L403.42 224.45L403.77 220.66L404.12 219.5L404.47 229.57L404.82 223.56L405.17 224.45L405.52 224.05L405.87 224.71L406.23 224.75L406.58 224.95L406.93 221.55L407.28 228.45L407.63 222.06L407.98 228.94L408.33 217.26L408.68 220.69L409.03 228.89L409.38 224.39L409.73 222.35L410.08 226.55L410.43 220.91L410.78 225.43L411.13 216.3L411.48 223.38L411.83 222.62L412.18 227.43L412.53 228.82L412.88 221.89L413.23 231.84L413.58 223.01L413.93 217.14L414.28 215.86L414.63 231.72L414.98 225.18L415.33 222.94L415.68 222.56L416.03 221.2L416.38 231.15L416.73 225.35L417.08 233L417.43 224.94L417.78 216.21L418.13 229.25L418.48 224.34L418.83 224.9L419.18 232.31L419.53 224.85L419.88 230.72L420.23 225.97L420.58 222.93L420.94 228.12L421.29 223.6L421.64 231.15L421.99 230.07L422.34 226.41L422.69 228.69L423.04 228.53L423.39 225.09L423.74 229.95L424.09 225.34L424.44 228.85L424.79 222.39L425.14 226.77L425.49 228.1L425.84 223.13L426.19 224.7L426.54 224.24L426.89 229.5L427.24 223.51L427.59 228.35L427.94 232.89L428.29 228.05L428.64 219.87L428.99 227.13L429.34 230.97L429.69 225.46L430.04 231.31L430.39 229.27L430.74 228.47L431.09 225.64L431.44 224.6L431.79 225.69L432.14 227.05L432.49 228.99L432.84 228.58L433.19 225.57L433.54 227.12L433.89 228.49L434.24 220.06L434.59 223.67L434.94 223.55L435.29 226.06L435.65 225.77L436 225.86L436.35 223.28L436.7 229.8L437.05 228.15L437.4 220.07L437.75 227.05L438.1 222.26L438.45 234.19L438.8 225.1L439.15 225.37L439.5 227.39L439.85 226.2L440.2 226.8L440.55 233.58L440.9 228.01L441.25 230.58L441.6 231.82L441.95 222.96L442.3 234.2L442.65 229.98L443 231.11"/>
<path stroke="#800080" d="M73.5 218.71L73.85 227.17L74.2 225.07L74.55 220.21L74.9 234.37L75.25 225.66L75.6 221.55L75.95 223.67L76.3 227.2L76.65 228.23L77 225.43L77.35 228.54L77.7 229.73L78.05 216.22L78.4 219.89L78.75 217.59L79.1 222.67L79.45 229.26L79.8 225.3L80.15 216.88L80.5 220.52L80.85 226.96L81.21 219.25L81.56 221.33L81.91 223.23L82.26 212.81L82.61 225.43L82.96 223.24L83.31 224.28L83.66 216.73L84.01 217.7L84.36 218.47L84.71 222.51L85.06 221.58L85.41 221.8L85.76 229.73L86.11 227.33L86.46 217.59L86.81 217.85L87.16 229.1L87.51 219.36L87.86 227.37L88.21 228.35L88.56 218.15L88.91 219.39L89.26 221.01L89.61 216.49L89.96 215.91L90.31 218.58L90.66 224.43L91.01 218.27L91.36 219.36L91.71 218.1L92.06 213.85L92.41 227.11L92.76 209.22L93.11 217.04L93.46 222.62L93.81 213.5L94.16 222.73L94.51 225.67L94.86 215.85L95.21 220.73L95.56 214.6L95.92 221.98L96.27 220L96.62 220.52L96.97 225.72L97.32 221.56L97.67 225.48L98.02 222.16L98.37 213.77L98.72 220.33L99.07 221.29L99.42 212.48L99.77 224.94L100.12 219.16L100.47 220.44L100.82 214.7L101.17 218.96L101.52 219.9L101.87 217.04L102.22 218.77L102.57 208.95L102.92 224.27L103.27 213.26L103.62 208.5L103.97 213.79L104.32 214.26L104.67 220.2L105.02 213.76L105.37 218.87L105.72 213.39L106.07 226.97L106.42 219.69L106.77 225.63L107.12 212.8L107.47 219.86L107.82 212.85L108.17 219.25L108.52 219.54L108.87 209.85L109.22 211.67L109.57 211.43L109.92 209.91L110.27 213L110.63 211.93L110.98 209.8L111.33 215.99L111.68 217.66L112.03 209.95L112.38 212.87L112.73 214.97L113.08 213.81L113.43 211.71L113.78 217.4L114.13 217.21L114.48 216.21L114.83 212.44L115.18 220.4L115.53 219.02L115.88 210.63L116.23 211.29L116.58 215.63L116.93 208.07L117.28 211.96L117.63 210.33L117.98 207.36L118.33 208.64L118.68 203.76L119.03 206.95L119.38 201.82L119.73 215.76L120.08 212.93L120.43 211.77L120.78 208.53L121.13 210.57L121.48 211.23L121.83 210.2L122.18 209.69L122.53 203.71L122.88 207.77L123.23 204.58L123.58 202.41L123.93 202.39L124.28 207.09L124.63 208.86L124.98 201.28L125.34 210.64L125.69 209.63L126.04 203.87L126.39 203.48L126.74 204.51L127.09 207.51L127.44 203.29L127.79 201.01L128.14 205.14L128.49 197.92L128.84 204.22L129.19 207.02L129.54 204.37L129.89 205.56L130.24 204.55L130.59 205.03L130.94 203.17L131.29 200.22L131.64 201.71L131.99 201.9L132.34 205.33L132.69 206.07L133.04 202.5L133.39 199.07L133.74 198.88L134.09 200.07L134.44 203.96L134.79 200.91L135.14 199.62L135.49 197.54L135.84 201.51L136.19 199.74L136.54 198.63L136.89 198.79L137.24 202.51L137.59 197.7L137.94 202.06L138.29 200.76L138.64 197.69L138.99 199.56L139.34 196.99L139.69 195.18L140.05 196.45L140.4 194.86L140.75 198.23L141.1 197.04L141.45 198.36L141.8 198.98L142.15 189.52L142.5 197.75L142.85 192.68L143.2 197.4L143.55 194.9L143.9 197.25L144.25 200.27L144.6 192.9L144.95 197.46L145.3 196.81L145.65 192.46L146 198.55L146.35 197.08L146.7 195.78L147.05 195.27L147.4 204.7L147.75 196.06L148.1 192.68L148.45 194.74L148.8 196.04L149.15 195.91L149.5 196.53L149.85 194.1L150.2 197.7L150.55 195.11L150.9 192.87L151.25 193.95L151.6 194.73L151.95 197.33L152.3 196.25L152.65 194.14L153 194.71L153.35 194.9L153.7 198.69L154.05 192.59L154.4 194.74L154.75 195.08L155.11 191.24L155.46 193.5L155.81 193.25L156.16 191.7L156.51 193.69L156.86 194.44L157.21 194.44L157.56 191.48L157.91 192.06L158.26 196.26L158.61 189L158.96 191.48L159.31 192.6L159.66 190.89L160.01 191.67L160.36 190.49L160.71 191.4L161.06 192.19L161.41 189.04L161.76 189.61L162.11 188.89L162.46 187.99L162.81 188.48L163.16 186.18L163.51 189.43L163.86 190.95L164.21 190.69L164.56 189.65L164.91 185.36L165.26 189.57L165.61 185.33L165.96 186.25L166.31 189.31L166.66 183.95L167.01 186.98L167.36 185.73L167.71 184.7L168.06 183.18L168.41 185.05L168.76 183.26L169.11 185.39L169.46 185.31L169.82 180.74L170.17 181.74L170.52 181.61L170.87 179.83L171.22 179.49L171.57 180.85L171.92 179.93L172.27 177.35L172.62 178.5L172.97 179.52L173.32 176.6L173.67 176.5L174.02 179.4L174.37 178.47L174.72 174.04L175.07 173.87L175.42 175.55L175.77 173.03L176.12 173.66L176.47 172.86L176.82 173.5L177.17 169.26L177.52 169.08L177.87 169.62L178.22 171.52L178.57 169.61L178.92 167.33L179.27 169.08L179.62 168.7L179.97 167.14L180.32 166.51L180.67 166.74L181.02 166.99L181.37 165.48L181.72 165.41L182.07 164.47L182.42 163.8L182.77 162.97L183.12 163.71L183.47 162.87L183.82 162.58L184.17 163.25L184.53 162.45L184.88 162.32L185.23 159.73L185.58 160.98L185.93 159.43L186.28 158.61L186.63 157.89L186.98 158.77L187.33 157.69L187.68 155.73L188.03 154.6L188.38 154.56L188.73 153.28L189.08 153.68L189.43 150.54L189.78 149.2L190.13 149.01L190.48 147.95L190.83 146.78L191.18 145.87L191.53 145.32L191.88 142.8L192.23 141.37L192.58 139.32L192.93 138.57L193.28 136.82L193.63 133.94L193.98 131.75L194.33 128.41L194.68 125.85L195.03 122.22L195.38 118.35L195.73 114.81L196.08 110.93L196.43 107.14L196.78 103.4L197.13 99.2L197.48 94.99L197.83 90.53L198.18 86.57L198.53 82.97L198.88 80.19L199.24 77.76L199.59 75.63L199.94 73.85L200.29 72.01L200.64 69.9L200.99 67.93L201.34 65.75L201.69 63.77L202.04 62.21L202.39 61.13L202.74 60.06L203.09 59.1L203.44 58.1L203.79 57.33L204.14 56.7L204.49 55.99L204.84 55.46L205.19 54.92L205.54 54.6L205.89 54.13L206.24 53.69L206.59 53.29L206.94 52.89L207.29 52.55L207.64 52.27L207.99 51.93L208.34 51.74L208.69 51.44L209.04 51.21L209.39 51.1L209.74 50.87L210.09 50.71L210.44 50.5L210.79 50.27L211.14 50.2L211.49 49.97L211.84 49.9L212.19 49.66L212.54 49.52L212.89 49.46L213.24 49.35L213.59 49.23L213.95 49.1L214.3 49.09L214.65 48.95L215 48.93L215.35 48.89L215.7 48.89L216.05 48.93L216.4 48.9L216.75 48.97L217.1 49.03L217.45 49.01L217.8 49.1L218.15 49.22L218.5 49.31L218.85 49.46L219.2 49.51L219.55 49.74L219.9 49.89L220.25 50.02L220.6 50.28L220.95 50.82L221.3 51.45L221.65 52.28L222 53.16L222.35 54.17L222.7 55.16L223.05 56.3L223.4 57.21L223.75 58.34L224.1 59.63L224.45 60.88L224.8 62.43L225.15 63.85L225.5 65.5L225.85 67.06L226.2 68.76L226.55 70.59L226.9 72.52L227.25 74.67L227.6 77.51L227.95 80.6L228.3 83.98L228.65 87.44L229.01 90.12L229.36 92.36L229.71 94.46L230.06 95.99L230.41 98.02L230.76 99.7L231.11 101.11L231.46 102.68L231.81 103.64L232.16 105.51L232.51 107.42L232.86 108.27L233.21 109.97L233.56 111.55L233.91 112.98L234.26 114.51L234.61 114.97L234.96 116.53L235.31 117.84L235.66 118.37L236.01 119.73L236.36 121.24L236.71 122.09L237.06 122.85L237.41 122.9L237.76 124.58L238.11 125.7L238.46 126.45L238.81 127.48L239.16 129.49L239.51 129.35L239.86 130.03L240.21 131.4L240.56 132.14L240.91 133.06L241.26 134.07L241.61 135.32L241.96 136.01L242.31 136.28L242.66 137.6L243.01 138.73L243.36 139.14L243.72 140.71L244.07 141.34L244.42 141.27L244.77 142.67L245.12 144.25L245.47 144.77L245.82 144.64L246.17 145.86L246.52 145.69L246.87 145.93L247.22 147.73L247.57 148.21L247.92 149.02L248.27 149.33L248.62 150.17L248.97 150.26L249.32 151.49L249.67 152.32L250.02 152.31L250.37 153.47L250.72 152.26L251.07 153.47L251.42 155.57L251.77 156.33L252.12 155.76L252.47 156L252.82 155.61L253.17 157.32L253.52 158.11L253.87 156.82L254.22 158.87L254.57 159.28L254.92 159.68L255.27 158.84L255.62 160.64L255.97 159.36L256.32 162.3L256.67 161.57L257.02 160.85L257.37 163.45L257.72 163.69L258.07 162.48L258.43 165.46L258.78 162.92L259.13 164.53L259.48 165.73L259.83 162.84L260.18 166.35L260.53 165.7L260.88 166.13L261.23 165.45L261.58 167.24L261.93 166.15L262.28 166.66L262.63 167.57L262.98 167.13L263.33 170.47L263.68 167.74L264.03 168.72L264.38 169.56L264.73 170.28L265.08 171.53L265.43 171.94L265.78 171.03L266.13 171.29L266.48 172.13L266.83 173.41L267.18 173.63L267.53 172.52L267.88 170.98L268.23 176.47L268.58 175.35L268.93 174.84L269.28 175.27L269.63 174.51L269.98 174.21L270.33 175.39L270.68 175.85L271.03 175.63L271.38 174.83L271.73 176.68L272.08 178.23L272.43 177.11L272.78 178.18L273.14 175.61L273.49 178.6L273.84 179.1L274.19 177.87L274.54 177.48L274.89 181L275.24 179.54L275.59 181.85L275.94 180.8L276.29 182.74L276.64 181.55L276.99 180L277.34 182.5L277.69 182.36L278.04 184.15L278.39 182.56L278.74 182.8L279.09 184.96L279.44 185.55L279.79 184.93L280.14 185.4L280.49 184.44L280.84 184.96L281.19 185.14L281.54 184.36L281.89 183.8L282.24 183.93L282.59 187.63L282.94 183.72L283.29 183.31L283.64 183.1L283.99 183.65L284.34 184.1L284.69 181.85L285.04 180.46L285.39 184.18L285.74 181.08L286.09 184.12L286.44 183.93L286.79 185.58L287.14 186.43L287.49 184.3L287.85 182.79L288.2 181.78L288.55 182.41L288.9 183.77L289.25 180.3L289.6 183.75L289.95 183.52L290.3 184.47L290.65 182.74L291 183.27L291.35 181.74L291.7 181.96L292.05 179.67L292.4 182.41L292.75 184.36L293.1 181.93L293.45 181.96L293.8 179.63L294.15 182.99L294.5 179.4L294.85 181.45L295.2 180.14L295.55 178.31L295.9 180.93L296.25 179.22L296.6 179.22L296.95 179.39L297.3 178.52L297.65 177.84L298 178.86L298.35 177.48L298.7 177.97L299.05 176.8L299.4 175.52L299.75 176.48L300.1 176.57L300.45 177.1L300.8 178.52L301.15 174.51L301.5 176.8L301.85 173.55L302.2 174.96L302.55 175.53L302.91 173.11L303.26 173.51L303.61 176.01L303.96 175.79L304.31 175.43L304.66 174.43L305.01 178.13L305.36 175.05L305.71 174.06L306.06 177.22L306.41 175.78L306.76 174.45L307.11 176.35L307.46 174.96L307.81 175.49L308.16 174.9L308.51 173.25L308.86 175.7L309.21 174.64L309.56 173.15L309.91 173.45L310.26 175.61L310.61 174L310.96 174.62L311.31 175.51L311.66 175L312.01 173.06L312.36 176L312.71 176.59L313.06 176.7L313.41 177.87L313.76 176.43L314.11 177.15L314.46 178.37L314.81 176.02L315.16 178.8L315.51 178.87L315.86 177.66L316.21 179.12L316.56 177.84L316.91 175.57L317.26 178.3L317.62 177.26L317.97 177.42L318.32 177.12L318.67 178.8L319.02 177.79L319.37 176.18L319.72 177.87L320.07 178.29L320.42 176.42L320.77 176.92L321.12 177.11L321.47 176.92L321.82 178.37L322.17 179.44L322.52 180.8L322.87 179.99L323.22 179.9L323.57 180.23L323.92 180.67L324.27 178.4L324.62 180.1L324.97 179.74L325.32 179.25L325.67 178.95L326.02 179.04L326.37 179.56L326.72 178.3L327.07 181.07L327.42 180.43L327.77 180.79L328.12 181.31L328.47 182.06L328.82 180.24L329.17 181.15L329.52 179.02L329.87 178.24L330.22 178.84L330.57 184.42L330.92 179.35L331.27 183.14L331.62 184.93L331.97 182.07L332.33 185.61L332.68 186.18L333.03 184.96L333.38 187.52L333.73 184.9L334.08 182.9L334.43 185.23L334.78 183.86L335.13 182.67L335.48 182.97L335.83 189.39L336.18 184.77L336.53 185.97L336.88 185.21L337.23 187.03L337.58 186.8L337.93 186.95L338.28 185.94L338.63 186.02L338.98 187.75L339.33 190.22L339.68 194.19L340.03 192.62L340.38 194.57L340.73 192.23L341.08 191.36L341.43 189.07L341.78 192.05L342.13 187.8L342.48 191.87L342.83 196.18L343.18 193.66L343.53 195.63L343.88 192.65L344.23 190.76L344.58 193.04L344.93 193.59L345.28 197.63L345.63 199.99L345.98 194.38L346.33 195.96L346.68 197.21L347.04 197.47L347.39 195.95L347.74 200.14L348.09 201.73L348.44 202.77L348.79 199.3L349.14 203.37L349.49 199.49L349.84 208.43L350.19 203.29L350.54 206.39L350.89 206.44L351.24 206.49L351.59 205.34L351.94 203.31L352.29 215.75L352.64 211.04L352.99 211.45L353.34 218.34L353.69 210.82L354.04 213.5L354.39 211.88L354.74 216.48L355.09 214.26L355.44 213.86L355.79 212.01L356.14 214.35L356.49 218.08L356.84 205.82L357.19 213.71L357.54 212.87L357.89 213.64L358.24 207.19L358.59 218.44L358.94 212.31L359.29 215.15L359.64 214.28L359.99 209.65L360.34 215.09L360.69 209.38L361.04 213.49L361.39 216.46L361.75 218.09L362.1 218.61L362.45 218.01L362.8 228.46L363.15 221.07L363.5 213.77L363.85 216.74L364.2 216.72L364.55 219.11L364.9 217.3L365.25 216.27L365.6 228.17L365.95 220.79L366.3 219.15L366.65 219.69L367 220L367.35 227.86L367.7 223.63L368.05 226.9L368.4 206.47L368.75 223.33L369.1 227.05L369.45 231.68L369.8 222.27L370.15 213.77L370.5 225.29L370.85 219.51L371.2 213.66L371.55 219.63L371.9 228.15L372.25 229.01L372.6 226.71L372.95 217.85L373.3 236.08L373.65 217.41L374 223.09L374.35 216.17L374.7 230.47L375.05 226.09L375.4 228.48L375.75 224.45L376.1 223.72L376.45 225.08L376.81 214.38L377.16 229.57L377.51 229.26L377.86 222.47L378.21 224.57L378.56 226.31L378.91 233.16L379.26 227.2L379.61 225.22L379.96 222.35L380.31 217.09L380.66 222.04L381.01 225.73L381.36 224.06L381.71 225.93L382.06 229.65L382.41 228.06L382.76 227.28L383.11 229.46L383.46 226.98L383.81 225.87L384.16 228.72L384.51 216.66L384.86 233.24L385.21 219.22L385.56 231.13L385.91 226.63L386.26 232.84L386.61 226.92L386.96 221.5L387.31 232.94L387.66 228.02L388.01 227.73L388.36 227.6L388.71 232.91L389.06 231.96L389.41 228.69L389.76 218.58L390.11 225.21L390.46 228.22L390.81 238.03L391.16 229.98L391.52 227.3L391.87 234.84L392.22 227.34L392.57 227.89L392.92 229.04L393.27 219.44L393.62 233.87L393.97 230.83L394.32 226.74L394.67 221.74L395.02 229.79L395.37 236.87L395.72 224.86L396.07 222.43L396.42 231.28L396.77 219.34L397.12 215.66L397.47 226.31L397.82 224.89L398.17 227.41L398.52 225.82L398.87 231.18L399.22 227.9L399.57 225.68L399.92 226.57L400.27 233.2L400.62 235.23L400.97 234.96L401.32 233.76L401.67 209.55L402.02 223.53L402.37 227.76L402.72 230.98L403.07 219.89L403.42 238.51L403.77 231.72L404.12 226.1L404.47 230.96L404.82 227.88L405.17 225.38L405.52 233.22L405.87 227.35L406.23 221.47L406.58 226.31L406.93 229.58L407.28 223.64L407.63 238.22L407.98 223.66L408.33 241.42L408.68 236.1L409.03 224.69L409.38 231.43L409.73 238.07L410.08 229.51L410.43 223.27L410.78 231.51L411.13 243.37L411.48 221.51L411.83 234.44L412.18 231.05L412.53 230.29L412.88 228.61L413.23 229.1L413.58 237.76L413.93 235.01L414.28 224.92L414.63 241.23L414.98 223.08L415.33 235.63L415.68 232.61L416.03 239.15L416.38 233.8L416.73 238.34L417.08 231.45L417.43 237.9L417.78 233.91L418.13 245.58L418.48 227.28L418.83 239.53L419.18 234.86L419.53 233.04L419.88 228.26L420.23 234.87L420.58 222.44L420.94 223.15L421.29 236.72L421.64 222L421.99 241.53L422.34 230.41L422.69 233.87L423.04 232.76L423.39 235.06L423.74 230.51L424.09 229.97L424.44 231.59L424.79 239.34L425.14 239.93L425.49 240.9L425.84 234.95L426.19 231.26L426.54 221.52L426.89 236.89L427.24 238.23L427.59 230.03L427.94 238.08L428.29 241.31L428.64 233.42L428.99 239.84L429.34 234.89L429.69 221.34L430.04 229.76L430.39 230.2L430.74 236.48L431.09 227.22L431.44 230.08L431.79 226.6L432.14 232.8L432.49 233.54L432.84 239.62L433.19 238.46L433.54 234.25L433.89 234.78L434.24 233.92L434.59 233.96L434.94 243.62L435.29 216.54L435.65 232.08L436 235.39L436.35 240.91L436.7 225.95L437.05 235.67L437.4 239.16L437.75 230.36L438.1 220.51L438.45 230.97L438.8 225.3L439.15 237.82L439.5 227.69L439.85 245.48L440.2 234.41L440.55 228.02L440.9 230.06L441.25 226.1L441.6 236.13L441.95 243.6L442.3 232.05L442.65 248L443 248"/>
<path stroke="#ff00ff" d="M73.5 213.05L73.85 218.42L74.2 208.21L74.55 215.3L74.9 215.05L75.25 206.7L75.6 207.83L75.95 208.99L76.3 214.13L76.65 210.3L77 210.92L77.35 213.18L77.7 211.52L78.05 211.73L78.4 210.21L78.75 213.95L79.1 208.85L79.45 215.24L79.8 209.87L80.15 208.6L80.5 212.31L80.85 211.72L81.21 205.32L81.56 210.99L81.91 206.84L82.26 208.13L82.61 212.25L82.96 207.93L83.31 211.01L83.66 209.06L84.01 214.95L84.36 209.68L84.71 206.86L85.06 206.99L85.41 207.45L85.76 210.04L86.11 209.66L86.46 212.08L86.81 210L87.16 209.86L87.51 210.31L87.86 209.12L88.21 210.15L88.56 211.35L88.91 211.31L89.26 207.93L89.61 204.81L89.96 207.2L90.31 209.91L90.66 202.92L91.01 207.94L91.36 210.23L91.71 207.66L92.06 206.25L92.41 213.4L92.76 212.44L93.11 208.31L93.46 212.22L93.81 212.13L94.16 206.05L94.51 215.49L94.86 206.47L95.21 208.11L95.56 206.01L95.92 208.89L96.27 205.4L96.62 208.6L96.97 211.26L97.32 209.07L97.67 207.85L98.02 212.27L98.37 206.21L98.72 210.75L99.07 207.58L99.42 208.8L99.77 208.3L100.12 208.49L100.47 207.99L100.82 206.17L101.17 206.64L101.52 209.04L101.87 207.65L102.22 205.04L102.57 206.09L102.92 206.06L103.27 207.54L103.62 208.04L103.97 207.77L104.32 205.92L104.67 207.46L105.02 204.09L105.37 200.41L105.72 207.08L106.07 203.22L106.42 204.83L106.77 204.15L107.12 208.4L107.47 204L107.82 207.41L108.17 205.54L108.52 203.71L108.87 202.85L109.22 207.51L109.57 207.24L109.92 208.05L110.27 210.39L110.63 206.7L110.98 206.62L111.33 205.6L111.68 206.03L112.03 204.89L112.38 203.55L112.73 209.99L113.08 201.16L113.43 205.8L113.78 206.08L114.13 205.28L114.48 202.65L114.83 204.2L115.18 203.44L115.53 201.93L115.88 204L116.23 203.04L116.58 202.55L116.93 205.03L117.28 201.12L117.63 204.13L117.98 201.73L118.33 203.74L118.68 202.82L119.03 203.01L119.38 200.33L119.73 200.61L120.08 200.31L120.43 202.29L120.78 203.33L121.13 203.87L121.48 200.55L121.83 201.61L122.18 198.08L122.53 196.77L122.88 199.38L123.23 199.68L123.58 197.81L123.93 197.27L124.28 201.74L124.63 199L124.98 197.18L125.34 204.92L125.69 200.61L126.04 199.55L126.39 201.37L126.74 198.48L127.09 202.89L127.44 196.77L127.79 197.11L128.14 199.22L128.49 197.91L128.84 201.9L129.19 196.08L129.54 197.59L129.89 199.26L130.24 199.71L130.59 200.37L130.94 198.98L131.29 202.23L131.64 197.15L131.99 198.16L132.34 199.2L132.69 196.9L133.04 196.75L133.39 196.26L133.74 195.74L134.09 194.69L134.44 195.49L134.79 193.55L135.14 196.67L135.49 193.06L135.84 199.07L136.19 198.19L136.54 196.93L136.89 194.47L137.24 193.6L137.59 196.32L137.94 194.35L138.29 194.69L138.64 192.35L138.99 194.92L139.34 191.68L139.69 192.82L140.05 189.67L140.4 191.05L140.75 192.52L141.1 190.76L141.45 190.43L141.8 191.88L142.15 190.19L142.5 191.64L142.85 185.94L143.2 189.69L143.55 189.08L143.9 185.77L144.25 185.61L144.6 187.99L144.95 184.92L145.3 184.99L145.65 186.07L146 184.43L146.35 184.98L146.7 182.91L147.05 183.94L147.4 184.52L147.75 183.31L148.1 180.09L148.45 183.18L148.8 182.25L149.15 180.91L149.5 183.31L149.85 179.53L150.2 183.4L150.55 180.38L150.9 182.64L151.25 180.65L151.6 179.05L151.95 180.45L152.3 180.54L152.65 180.61L153 181.03L153.35 178.78L153.7 180.15L154.05 180.3L154.4 179.12L154.75 178.32L155.11 178.23L155.46 179.96L155.81 179.95L156.16 178.16L156.51 177.56L156.86 180.2L157.21 177.21L157.56 178.94L157.91 177.88L158.26 176.83L158.61 178.74L158.96 178.37L159.31 180.02L159.66 180.84L160.01 178.25L160.36 179.48L160.71 179.47L161.06 177.83L161.41 177.46L161.76 180.01L162.11 177.96L162.46 178.34L162.81 178.12L163.16 178.36L163.51 177.99L163.86 179.54L164.21 180.23L164.56 178.68L164.91 177.8L165.26 179.51L165.61 178.05L165.96 179.15L166.31 181.37L166.66 182.75L167.01 180.8L167.36 179.36L167.71 181.53L168.06 178.29L168.41 180.09L168.76 182.62L169.11 181.77L169.46 179.39L169.82 179.06L170.17 181.83L170.52 180.78L170.87 180.13L171.22 181.18L171.57 180.02L171.92 178.45L172.27 181.37L172.62 179.68L172.97 179.19L173.32 178.73L173.67 180.34L174.02 179.09L174.37 180.52L174.72 179.43L175.07 180.76L175.42 179.07L175.77 178.66L176.12 177.14L176.47 177.94L176.82 179.72L177.17 182.01L177.52 177.34L177.87 177.4L178.22 178.64L178.57 178.59L178.92 177.2L179.27 177.76L179.62 175.84L179.97 176.94L180.32 177.9L180.67 178.37L181.02 176.35L181.37 176L181.72 176.43L182.07 176.79L182.42 175.92L182.77 174.48L183.12 175.24L183.47 175.52L183.82 173.66L184.17 172.76L184.53 174.09L184.88 173.58L185.23 173.73L185.58 172.55L185.93 171.51L186.28 171.28L186.63 170.36L186.98 170.01L187.33 169.9L187.68 169.53L188.03 170.38L188.38 168.09L188.73 168.6L189.08 167.77L189.43 168.95L189.78 167.62L190.13 166.76L190.48 167.27L190.83 166.38L191.18 165.65L191.53 166.78L191.88 165.88L192.23 166.3L192.58 165.59L192.93 165.03L193.28 164.29L193.63 163.17L193.98 164.08L194.33 163.33L194.68 163.41L195.03 162.61L195.38 161.81L195.73 161.23L196.08 161.91L196.43 161.84L196.78 160.39L197.13 160.35L197.48 160.35L197.83 158.39L198.18 157.96L198.53 156.74L198.88 157.16L199.24 155.75L199.59 154.41L199.94 152.82L200.29 152.54L200.64 152.06L200.99 150.39L201.34 149.26L201.69 148.58L202.04 146.58L202.39 145.85L202.74 144.74L203.09 142.85L203.44 141.43L203.79 140.36L204.14 138.75L204.49 137.18L204.84 135.7L205.19 134L205.54 131.92L205.89 130.19L206.24 128.64L206.59 126.93L206.94 125.13L207.29 122.8L207.64 121.2L207.99 118.91L208.34 116.43L208.69 113.87L209.04 110.72L209.39 106.05L209.74 98.72L210.09 91.19L210.44 84.35L210.79 80.04L211.14 77.88L211.49 76.02L211.84 74.41L212.19 73.18L212.54 72.08L212.89 70.96L213.24 70.02L213.59 68.83L213.95 67.52L214.3 65.96L214.65 64.19L215 62.14L215.35 60.06L215.7 58.08L216.05 56.06L216.4 54.3L216.75 52.65L217.1 51.13L217.45 49.56L217.8 48.09L218.15 46.69L218.5 45.38L218.85 44.17L219.2 43.09L219.55 42.08L219.9 41.07L220.25 40.13L220.6 39.16L220.95 38.31L221.3 37.52L221.65 36.86L222 36.22L222.35 35.77L222.7 35.38L223.05 34.95L223.4 34.58L223.75 34.17L224.1 33.85L224.45 33.51L224.8 33.25L225.15 32.99L225.5 32.77L225.85 32.62L226.2 32.49L226.55 32.41L226.9 32.39L227.25 32.41L227.6 32.5L227.95 32.64L228.3 32.72L228.65 32.87L229.01 32.99L229.36 33.18L229.71 33.38L230.06 33.62L230.41 33.87L230.76 34.2L231.11 34.55L231.46 34.86L231.81 35.22L232.16 35.55L232.51 35.87L232.86 36.26L233.21 36.63L233.56 36.99L233.91 37.38L234.26 37.8L234.61 38.2L234.96 38.66L235.31 39.11L235.66 39.56L236.01 40.11L236.36 40.64L236.71 41.2L237.06 41.82L237.41 42.44L237.76 43.14L238.11 43.88L238.46 44.64L238.81 45.45L239.16 46.38L239.51 47.41L239.86 48.45L240.21 49.61L240.56 51L240.91 52.58L241.26 54.34L241.61 56.31L241.96 58.41L242.31 60.82L242.66 63.95L243.01 67.71L243.36 71.63L243.72 75.67L244.07 79.14L244.42 82.24L244.77 84.93L245.12 87.47L245.47 89.79L245.82 91.98L246.17 94.35L246.52 96.47L246.87 98.79L247.22 100.91L247.57 103.22L247.92 105.58L248.27 108.01L248.62 110.12L248.97 113.09L249.32 116.08L249.67 118.39L250.02 121.6L250.37 124.21L250.72 126.89L251.07 128.84L251.42 130.43L251.77 131.87L252.12 132.87L252.47 133.56L252.82 134.29L253.17 135.09L253.52 135.87L253.87 136.84L254.22 137.59L254.57 138.72L254.92 139.11L255.27 140.84L255.62 142.21L255.97 142.69L256.32 143.12L256.67 145.19L257.02 145.52L257.37 145.38L257.72 147.44L258.07 148.66L258.43 149.38L258.78 150.52L259.13 150.91L259.48 151.33L259.83 150.95L260.18 151.95L260.53 153.16L260.88 153.98L261.23 153.67L261.58 154.41L261.93 155.49L262.28 154.73L262.63 155.19L262.98 156.6L263.33 157.33L263.68 157.38L264.03 156.79L264.38 158.55L264.73 158.19L265.08 159.79L265.43 159.76L265.78 160.4L266.13 161.05L266.48 160.73L266.83 161.99L267.18 162.67L267.53 162.54L267.88 163.56L268.23 162.67L268.58 164.09L268.93 164.05L269.28 163.57L269.63 164.56L269.98 164.6L270.33 164.94L270.68 165.75L271.03 166.8L271.38 166.15L271.73 166.81L272.08 165.97L272.43 167.47L272.78 168.6L273.14 168.68L273.49 168.76L273.84 168.31L274.19 168.29L274.54 169.31L274.89 168.65L275.24 169.06L275.59 171.16L275.94 169.98L276.29 172.58L276.64 170.23L276.99 172.15L277.34 171.15L277.69 172.68L278.04 172L278.39 173.34L278.74 173.55L279.09 173.68L279.44 174.96L279.79 176.29L280.14 174.73L280.49 176.53L280.84 176.16L281.19 176.43L281.54 179L281.89 175.06L282.24 176.89L282.59 176.09L282.94 177.95L283.29 178.36L283.64 182.89L283.99 179.56L284.34 181.38L284.69 181.12L285.04 179.49L285.39 180.7L285.74 182.21L286.09 180.78L286.44 181.03L286.79 181.56L287.14 179.52L287.49 180.49L287.85 181.98L288.2 182.41L288.55 180.93L288.9 181.79L289.25 182.2L289.6 182.33L289.95 183.48L290.3 182.95L290.65 183.16L291 181.43L291.35 181.97L291.7 183.71L292.05 181.52L292.4 183.83L292.75 182.78L293.1 182.65L293.45 184.44L293.8 182.87L294.15 182.65L294.5 182.85L294.85 183.7L295.2 186.87L295.55 180.98L295.9 183.42L296.25 183.06L296.6 184.37L296.95 182.69L297.3 180.09L297.65 184.42L298 181.44L298.35 182.49L298.7 180.81L299.05 180.97L299.4 181.49L299.75 182.85L300.1 182.65L300.45 180.83L300.8 181.88L301.15 180.71L301.5 181.06L301.85 180.91L302.2 181.23L302.55 179.69L302.91 180.03L303.26 180.21L303.61 179.87L303.96 178.7L304.31 181.15L304.66 178.6L305.01 179.63L305.36 178.78L305.71 179.56L306.06 175.79L306.41 179.82L306.76 177.23L307.11 175.92L307.46 176.97L307.81 178.74L308.16 176.71L308.51 174.71L308.86 175.13L309.21 176.51L309.56 173.61L309.91 174.43L310.26 173.99L310.61 175.9L310.96 173.34L311.31 174.45L311.66 172.35L312.01 171.92L312.36 173.17L312.71 172.52L313.06 170.2L313.41 171.9L313.76 171.58L314.11 170.2L314.46 170.53L314.81 170.2L315.16 169.22L315.51 168.78L315.86 168.34L316.21 168.29L316.56 167.13L316.91 167.78L317.26 166.37L317.62 167.27L317.97 166.89L318.32 165.96L318.67 167.16L319.02 167.8L319.37 167.2L319.72 165.1L320.07 166.87L320.42 165.97L320.77 165.63L321.12 165.12L321.47 165.41L321.82 166.27L322.17 165.55L322.52 164.76L322.87 164.48L323.22 164.55L323.57 165.15L323.92 165.95L324.27 163.84L324.62 164.49L324.97 164.16L325.32 163.84L325.67 164.58L326.02 164.64L326.37 163.26L326.72 163.49L327.07 165L327.42 164.39L327.77 164.53L328.12 163.84L328.47 163.92L328.82 164.5L329.17 163.86L329.52 163.45L329.87 164.22L330.22 164.85L330.57 163.54L330.92 164.99L331.27 164.76L331.62 163.71L331.97 164.33L332.33 164.31L332.68 164.8L333.03 164.85L333.38 163.52L333.73 163.52L334.08 165.18L334.43 164.58L334.78 164.82L335.13 164.79L335.48 165.66L335.83 163.79L336.18 165.42L336.53 164.13L336.88 165.26L337.23 165.75L337.58 163.93L337.93 165.27L338.28 164.89L338.63 164.99L338.98 165.34L339.33 164.7L339.68 164.9L340.03 166.2L340.38 166.48L340.73 165.63L341.08 165.15L341.43 168.05L341.78 167.34L342.13 166.98L342.48 166.13L342.83 166.64L343.18 167.43L343.53 166.71L343.88 168.82L344.23 167.89L344.58 168.27L344.93 167.35L345.28 167.62L345.63 167.88L345.98 168.87L346.33 168.62L346.68 168.78L347.04 169.43L347.39 169.54L347.74 170.73L348.09 169.59L348.44 169.13L348.79 170.14L349.14 171.55L349.49 170.13L349.84 170.85L350.19 170.75L350.54 171.64L350.89 171.78L351.24 171.15L351.59 171.93L351.94 173.24L352.29 173.7L352.64 173.92L352.99 174.28L353.34 173.66L353.69 174.11L354.04 175.81L354.39 174.38L354.74 175.99L355.09 174.82L355.44 176.85L355.79 177.12L356.14 177.21L356.49 179.67L356.84 178.9L357.19 179.91L357.54 180.69L357.89 180.85L358.24 184.05L358.59 182.61L358.94 184.21L359.29 183.17L359.64 185L359.99 185.99L360.34 186.81L360.69 187.23L361.04 189L361.39 191.77L361.75 190.12L362.1 190.81L362.45 191.09L362.8 196.16L363.15 195.39L363.5 194.34L363.85 195.14L364.2 193.4L364.55 194.83L364.9 195.95L365.25 196.31L365.6 195.13L365.95 195.74L366.3 198.52L366.65 198.66L367 194.75L367.35 199.29L367.7 202.03L368.05 198.93L368.4 201.18L368.75 198.41L369.1 203.53L369.45 200.15L369.8 200.4L370.15 202.9L370.5 209.2L370.85 203.33L371.2 202.38L371.55 206.69L371.9 206.63L372.25 210.34L372.6 203.99L372.95 203.6L373.3 206.99L373.65 209.04L374 209.37L374.35 211.53L374.7 205.51L375.05 207.49L375.4 209.55L375.75 212.35L376.1 211.73L376.45 209.7L376.81 208.4L377.16 213.67L377.51 214.12L377.86 219.1L378.21 211.6L378.56 216.72L378.91 209.24L379.26 211.27L379.61 211.11L379.96 211.9L380.31 210.94L380.66 212.05L381.01 213.6L381.36 212.64L381.71 215.96L382.06 213.98L382.41 214.34L382.76 218.72L383.11 215.49L383.46 215.13L383.81 214.73L384.16 215.08L384.51 216.68L384.86 212.74L385.21 218.57L385.56 219.94L385.91 218.81L386.26 214.02L386.61 210.82L386.96 214.35L387.31 216.21L387.66 218.32L388.01 215.37L388.36 215.08L388.71 220.68L389.06 214.13L389.41 219.47L389.76 219.07L390.11 212.33L390.46 217.31L390.81 214.82L391.16 213.68L391.52 210.97L391.87 211.9L392.22 218.07L392.57 215.65L392.92 217.76L393.27 213.68L393.62 216.04L393.97 216.25L394.32 212.33L394.67 212.01L395.02 218.64L395.37 217.77L395.72 214.43L396.07 217.09L396.42 219.55L396.77 223.28L397.12 214.75L397.47 219.55L397.82 224.35L398.17 217.9L398.52 222.39L398.87 209.56L399.22 222.43L399.57 217.82L399.92 211.91L400.27 220.42L400.62 221.33L400.97 221.88L401.32 221.89L401.67 217.98L402.02 215.71L402.37 216.67L402.72 218.07L403.07 219.52L403.42 216.7L403.77 218.43L404.12 221.14L404.47 219.39L404.82 225.79L405.17 225.38L405.52 214.71L405.87 216.61L406.23 214.23L406.58 214.73L406.93 220.31L407.28 215.33L407.63 215.18L407.98 217.73L408.33 221.25L408.68 217.5L409.03 217.52L409.38 221.72L409.73 220.28L410.08 220.25L410.43 221.89L410.78 215.49L411.13 219.54L411.48 216.77L411.83 222.25L412.18 221.58L412.53 215.48L412.88 223.35L413.23 215.11L413.58 222.85L413.93 219.68L414.28 216.15L414.63 215.35L414.98 218.07L415.33 219.02L415.68 216.76L416.03 221.01L416.38 214.51L416.73 219.16L417.08 219.21L417.43 213L417.78 220.28L418.13 215.07L418.48 210.97L418.83 217.27L419.18 218.58L419.53 222.39L419.88 217.76L420.23 224.35L420.58 224.26L420.94 223.13L421.29 223.93L421.64 220.69L421.99 217.66L422.34 221.74L422.69 222.84L423.04 220.41L423.39 218.81L423.74 214.37L424.09 221.96L424.44 220.89L424.79 215.33L425.14 220.09L425.49 222.22L425.84 219.43L426.19 222.48L426.54 222.41L426.89 214.85L427.24 218.87L427.59 221.56L427.94 223.06L428.29 224.77L428.64 213.44L428.99 219.78L429.34 222.48L429.69 224.24L430.04 225.85L430.39 216.9L430.74 218.85L431.09 216.53L431.44 222.98L431.79 215.65L432.14 224.28L432.49 223.46L432.84 221.94L433.19 212.81L433.54 217.97L433.89 222.91L434.24 215.46L434.59 219.54L434.94 220.03L435.29 223.49L435.65 221.42L436 221.41L436.35 218.96L436.7 220.52L437.05 220.06L437.4 223.08L437.75 219.95L438.1 224.18L438.45 214.71L438.8 224.81L439.15 220.06L439.5 224.61L439.85 220.99L440.2 223.7L440.55 225.96L440.9 218.83L441.25 221.06L441.6 220.21L441.95 221.55L442.3 215.17L442.65 220.27L443 220.01"/>
</g>
<g stroke="#000" stroke-width="1.3" fill="none">
<rect x="73.5" y="0.4" width="369.8" height="275.90000000000003"/>
<path stroke-width="1.1" d="M68 276.3H73.5M437.8 276.3H443.3M70.5 264.29H73.5M440.3 264.29H443.3M70.5 257.26H73.5M440.3 257.26H443.3M70.5 252.28H73.5M440.3 252.28H443.3M70.5 248.41H73.5M440.3 248.41H443.3M70.5 245.25H73.5M440.3 245.25H443.3M70.5 242.58H73.5M440.3 242.58H443.3M70.5 240.27H73.5M440.3 240.27H443.3M70.5 238.23H73.5M440.3 238.23H443.3M68 236.4H73.5M437.8 236.4H443.3M70.5 224.39H73.5M440.3 224.39H443.3M70.5 217.36H73.5M440.3 217.36H443.3M70.5 212.38H73.5M440.3 212.38H443.3M70.5 208.51H73.5M440.3 208.51H443.3M70.5 205.35H73.5M440.3 205.35H443.3M70.5 202.68H73.5M440.3 202.68H443.3M70.5 200.37H73.5M440.3 200.37H443.3M70.5 198.33H73.5M440.3 198.33H443.3M68 196.5H73.5M437.8 196.5H443.3M70.5 184.49H73.5M440.3 184.49H443.3M70.5 177.46H73.5M440.3 177.46H443.3M70.5 172.48H73.5M440.3 172.48H443.3M70.5 168.61H73.5M440.3 168.61H443.3M70.5 165.45H73.5M440.3 165.45H443.3M70.5 162.78H73.5M440.3 162.78H443.3M70.5 160.47H73.5M440.3 160.47H443.3M70.5 158.43H73.5M440.3 158.43H443.3M68 156.6H73.5M437.8 156.6H443.3M70.5 144.59H73.5M440.3 144.59H443.3M70.5 137.56H73.5M440.3 137.56H443.3M70.5 132.58H73.5M440.3 132.58H443.3M70.5 128.71H73.5M440.3 128.71H443.3M70.5 125.55H73.5M440.3 125.55H443.3M70.5 122.88H73.5M440.3 122.88H443.3M70.5 120.57H73.5M440.3 120.57H443.3M70.5 118.53H73.5M440.3 118.53H443.3M68 116.7H73.5M437.8 116.7H443.3M70.5 104.69H73.5M440.3 104.69H443.3M70.5 97.66H73.5M440.3 97.66H443.3M70.5 92.68H73.5M440.3 92.68H443.3M70.5 88.81H73.5M440.3 88.81H443.3M70.5 85.65H73.5M440.3 85.65H443.3M70.5 82.98H73.5M440.3 82.98H443.3M70.5 80.67H73.5M440.3 80.67H443.3M70.5 78.63H73.5M440.3 78.63H443.3M68 76.8H73.5M437.8 76.8H443.3M70.5 64.79H73.5M440.3 64.79H443.3M70.5 57.76H73.5M440.3 57.76H443.3M70.5 52.78H73.5M440.3 52.78H443.3M70.5 48.91H73.5M440.3 48.91H443.3M70.5 45.75H73.5M440.3 45.75H443.3M70.5 43.08H73.5M440.3 43.08H443.3M70.5 40.77H73.5M440.3 40.77H443.3M70.5 38.73H73.5M440.3 38.73H443.3M68 36.9H73.5M437.8 36.9H443.3M70.5 24.89H73.5M440.3 24.89H443.3M70.5 17.86H73.5M440.3 17.86H443.3M70.5 12.88H73.5M440.3 12.88H443.3M70.5 9.01H73.5M440.3 9.01H443.3M70.5 5.85H73.5M440.3 5.85H443.3M70.5 3.18H73.5M440.3 3.18H443.3M70.5 0.87H73.5M440.3 0.87H443.3M73.5 276.3V281.8M73.5 0.4V5.9M104.32 276.3V279.3M104.32 0.4V3.4M135.13 276.3V281.8M135.13 0.4V5.9M165.95 276.3V279.3M165.95 0.4V3.4M196.77 276.3V281.8M196.77 0.4V5.9M227.58 276.3V279.3M227.58 0.4V3.4M258.4 276.3V281.8M258.4 0.4V5.9M289.22 276.3V279.3M289.22 0.4V3.4M320.03 276.3V281.8M320.03 0.4V5.9M350.85 276.3V279.3M350.85 0.4V3.4M381.67 276.3V281.8M381.67 0.4V5.9M412.48 276.3V279.3M412.48 0.4V3.4M443.3 276.3V281.8M443.3 0.4V5.9"/>
</g>
<g font-family="'Liberation Sans', Arial, Helvetica, sans-serif" fill="#000" stroke="#000" stroke-width="0.2">
<text x="64.3" y="280.4" font-size="13" text-anchor="end">1</text>
<text x="64.3" y="240.5" font-size="13" text-anchor="end">10</text>
<text x="64.3" y="200.6" font-size="13" text-anchor="end">100</text>
<text x="64.3" y="160.7" font-size="13" text-anchor="end">1000</text>
<text x="64.3" y="120.8" font-size="13" text-anchor="end">10000</text>
<text x="64.3" y="80.9" font-size="13" text-anchor="end">100000</text>
<text x="64.3" y="41" font-size="13" text-anchor="end">1000000</text>
<text x="73.5" y="295.6" font-size="13" text-anchor="middle">33.6</text>
<text x="135.13" y="295.6" font-size="13" text-anchor="middle">34.0</text>
<text x="196.77" y="295.6" font-size="13" text-anchor="middle">34.4</text>
<text x="258.4" y="295.6" font-size="13" text-anchor="middle">34.8</text>
<text x="320.03" y="295.6" font-size="13" text-anchor="middle">35.2</text>
<text x="381.67" y="295.6" font-size="13" text-anchor="middle">35.6</text>
<text x="443.3" y="295.6" font-size="13" text-anchor="middle">36.0</text>
<text x="192.7" y="312.8" font-size="13">Diffraction angle (2&#952;)</text>
<text transform="translate(16.4,134.2) rotate(-90)" font-size="13.1" text-anchor="middle">Intensity (a.u.)</text>
<text x="83.3" y="21.8" font-size="14">290MeV</text>
<text x="144.2" y="14.2" stroke-width="0" font-size="8.2">238</text>
<text x="158.2" y="21.6" font-size="14">U</text>
<text x="168.9" y="14.2" stroke-width="0" font-size="8.2">32+</text>
<text x="147.9" y="42.4" font-size="14">GaN (0002)</text>
<text x="350.2" y="146.4" font-size="14">AlGaN (0002)</text>
<path d="M320.1 19.8H348.6" stroke="#222222" stroke-width="1.1"/>
<text x="352.9" y="24.5" font-size="13.1">Un-irradiated</text>
<path d="M320.1 35.8H348.6" stroke="#40e8e8" stroke-width="1.1"/>
<text x="352.9" y="40.5" font-size="13.1">1E9</text>
<path d="M320.1 52H348.6" stroke="#c83c3c" stroke-width="1.1"/>
<text x="352.9" y="56.7" font-size="13.1">1E10</text>
<path d="M320.1 68.3H348.6" stroke="#d850d8" stroke-width="1.1"/>
<text x="352.9" y="73" font-size="13.1">5E10</text>
<path d="M320.1 84.2H348.6" stroke="#48e048" stroke-width="1.1"/>
<text x="352.9" y="88.9" font-size="13.1">1E11</text>
<path d="M320.1 100.5H348.6" stroke="#985098" stroke-width="1.1"/>
<text x="352.9" y="105.2" font-size="13.1">5E11</text>
<path d="M320.1 116.7H348.6" stroke="#4858e0" stroke-width="1.1"/>
<text x="352.9" y="121.4" font-size="13.1">1E12</text>
</g>
<clipPath id="cb"><rect x="73.3" y="362.5" width="373.7" height="277.9"/></clipPath>
<g clip-path="url(#cb)" fill="none" stroke-width="1.1" stroke-linejoin="round">
<path stroke="#000000" d="M127.8 614.36L130.01 623L132.23 615.7L134.44 612.04L136.66 611.86L138.87 610.85L141.09 612.1L143.3 610.25L145.52 610.76L147.73 605.55L149.95 610.17L152.16 606.45L154.38 606.53L156.59 604.08L158.81 602.5L161.02 602.49L163.24 601.73L165.45 599.01L167.67 597.77L169.88 597.49L172.1 594.1L174.31 591.88L176.53 592.68L178.74 589.88L180.96 586.9L183.17 586.5L185.39 585.19L187.6 582.74L189.81 580.71L192.03 580.37L194.24 579.29L196.46 576.38L198.67 574L200.89 572.87L203.1 570.96L205.32 567.94L207.53 566.04L209.75 563.67L211.96 560.09L214.18 556.99L216.39 554.99L218.61 552.36L220.82 550.24L223.04 546.55L225.25 544.3L227.47 541.6L229.68 538.55L231.9 536.73L234.11 534.36L236.33 531.27L238.54 529L240.76 525.31L242.97 520.79L245.19 513.93L247.4 507.16L249.61 501.44L251.83 495.52L254.04 488.42L256.26 480.97L258.47 474.46L260.69 466.64L262.9 455.75L265.12 440.83L267.33 424.41L269.55 412.16L271.76 402.44L273.98 394.44L276.19 389.65L278.41 386.68L280.62 386.81L282.84 390.83L285.05 396.89L287.27 408.08L289.48 421.9L291.7 437.24L293.91 449.12L296.13 460.46L298.34 471.05L300.56 478.77L302.77 485.53L304.99 492.34L307.2 499.53L309.41 505.32L311.63 511.45L313.84 516.92L316.06 520.81L318.27 525.31L320.49 528.85L322.7 533.23L324.92 537.67L327.13 541.68L329.35 543.27L331.56 546.5L333.78 549.54L335.99 552.27L338.21 553.88L340.42 555.52L342.64 558.56L344.85 560.88L347.07 563.31L349.28 565.5L351.5 568.85L353.71 571.35L355.93 573.55L358.14 575.91L360.36 577.31L362.57 580.24L364.79 584.04L367 584.74L369.21 585.32L371.43 590.01L373.64 590.64L375.86 593.83L378.07 592.69L380.29 593.25L382.5 593.19L384.72 597.95L386.93 600.95L389.15 597.77L391.36 599.31L393.58 602.37L395.79 601.59L398.01 603.67L400.22 604.79L402.44 606.89L404.65 609.62L406.87 609.15L409.08 611.98L411.3 610.98L413.51 613.62L415.73 610.39L417.94 612.93L420.16 618.58L422.37 617.19L424.59 620.93L426.8 622.25"/>
<path stroke="#00ffff" d="M106.6 635.5L108.8 627.96L111 625.32L113.2 621.84L115.41 619.94L117.61 619.02L119.81 618.29L122.01 615.63L124.21 615.46L126.41 615.28L128.61 615.14L130.82 613.39L133.02 609.93L135.22 612.73L137.42 612.65L139.62 613.46L141.82 611.72L144.02 608.72L146.23 607.64L148.43 611.14L150.63 608.2L152.83 609.1L155.03 608.95L157.23 603.87L159.44 605.08L161.64 604.28L163.84 603.19L166.04 601.69L168.24 599.59L170.44 597.86L172.64 594.05L174.85 594.11L177.05 591.71L179.25 590.96L181.45 588.44L183.65 587.7L185.85 585.89L188.05 583.34L190.26 581.38L192.46 579.2L194.66 576.61L196.86 574.5L199.06 571.51L201.26 568.78L203.46 563.21L205.67 557.34L207.87 550.75L210.07 548.22L212.27 544.77L214.47 542.56L216.67 540.82L218.88 538.8L221.08 537.19L223.28 534.73L225.48 532.53L227.68 530.69L229.88 529.47L232.08 527L234.29 524.34L236.49 522.05L238.69 518.45L240.89 515.11L243.09 509.38L245.29 504.52L247.49 499.07L249.7 492.81L251.9 486.69L254.1 480L256.3 472.71L258.5 464.47L260.7 454.5L262.9 442.35L265.11 428.3L267.31 417.19L269.51 407.18L271.71 397.58L273.91 392.46L276.11 388.96L278.31 387.97L280.52 390.9L282.72 396.4L284.92 404.74L287.12 417.61L289.32 435L291.52 449.87L293.72 462.72L295.93 473.16L298.13 481.2L300.33 488.96L302.53 495.84L304.73 502.31L306.93 507.7L309.14 512.58L311.34 517.23L313.54 522.08L315.74 526.53L317.94 529.99L320.14 534.27L322.34 537.67L324.55 540.71L326.75 544.93L328.95 548.01L331.15 550.27L333.35 553.16L335.55 555.74L337.75 557.31L339.96 559.22L342.16 562.22L344.36 564.4L346.56 566.44L348.76 569.55L350.96 572.3L353.16 572.83L355.37 575.98L357.57 578.44L359.77 580.43L361.97 582.89L364.17 583.6L366.37 586.81L368.57 590.22L370.78 590.81L372.98 590.95L375.18 594.11L377.38 596.59L379.58 597.06L381.78 597.35L383.99 601.69L386.19 599.21L388.39 603.03L390.59 603.56L392.79 603.03L394.99 608.06L397.19 607.99L399.4 606.79L401.6 611.05L403.8 610.68L406 609.57"/>
<path stroke="#ff0000" d="M121 621.87L123.21 621.5L125.42 620.13L127.63 617.71L129.84 616.32L132.06 616.16L134.27 614.01L136.48 615.68L138.69 612.85L140.9 612.01L143.11 611.28L145.32 607.41L147.53 606.81L149.75 609.15L151.96 606L154.17 603.81L156.38 603.5L158.59 601.08L160.8 600.96L163.01 598.53L165.22 598.72L167.44 595.18L169.65 597.76L171.86 594.11L174.07 591.33L176.28 591.17L178.49 588.97L180.7 587.35L182.91 583.74L185.12 583.01L187.34 583.8L189.55 577.25L191.76 576.87L193.97 574.7L196.18 573.58L198.39 570.47L200.6 569.37L202.81 568.73L205.03 566.24L207.24 564.67L209.45 559.95L211.66 556.96L213.87 554.78L216.08 549.28L218.29 545.97L220.5 543.4L222.71 540.58L224.93 538.14L227.14 534.99L229.35 531.6L231.56 528.53L233.77 525.51L235.98 520.62L238.19 513.49L240.4 507.25L242.62 500.95L244.83 495.22L247.04 488.78L249.25 482.5L251.46 475.53L253.67 466.52L255.88 450.19L258.09 433.25L260.31 419.93L262.52 410L264.73 402.96L266.94 398.6L269.15 397.25L271.36 400.37L273.57 405.56L275.78 413.95L277.99 424.26L280.21 436.76L282.42 450.7L284.63 465.43L286.84 476.02L289.05 484.24L291.26 491.77L293.47 498.31L295.68 504.27L297.9 509.02L300.11 514.4L302.32 519.24L304.53 524.18L306.74 528.82L308.95 533.13L311.16 536.47L313.37 540.34L315.59 545.7L317.8 548.92L320.01 552.31L322.22 554.35L324.43 556.95L326.64 558.19L328.85 561.6L331.06 563.27L333.27 566.05L335.49 568.31L337.7 570L339.91 572.43L342.12 574.25L344.33 577.03L346.54 578.98L348.75 580.26L350.96 582.49L353.18 587.16L355.39 587.52L357.6 590.91L359.81 592.29L362.02 593.06L364.23 594.66L366.44 597.57L368.65 599.5L370.86 601.68L373.08 600.55L375.29 603L377.5 605.16L379.71 609.2L381.92 604.12L384.13 609.92L386.34 609.44L388.55 612.23L390.77 611.63L392.98 614.1L395.19 617.23L397.4 615.89L399.61 617L401.82 617.94L404.03 616.86L406.24 620.74L408.46 620.53L410.67 620.65L412.88 623.92L415.09 625.25L417.3 629.53"/>
<path stroke="#ff00ff" d="M124.3 608.23L126.51 606.18L128.72 608.07L130.92 606.16L133.13 605.48L135.34 603.5L137.55 601.55L139.76 600.26L141.96 599.61L144.17 600.43L146.38 598.39L148.59 595.44L150.8 596.51L153 593.92L155.21 595.04L157.42 592.37L159.63 591.2L161.84 591.45L164.04 589.48L166.25 585.84L168.46 586.4L170.67 585.82L172.88 580.28L175.08 581.34L177.29 577L179.5 575.06L181.71 573.16L183.92 569.96L186.12 569.83L188.33 566.99L190.54 563.81L192.75 561.65L194.96 558.18L197.16 555.78L199.37 552.65L201.58 547.09L203.79 543.43L206 539.68L208.21 536.59L210.41 533.53L212.62 529.93L214.83 527L217.04 524.57L219.25 521.53L221.45 518.7L223.66 516.25L225.87 513.61L228.08 510.5L230.29 507.6L232.49 504.95L234.7 501.66L236.91 499.12L239.12 496.15L241.33 493.57L243.53 488.49L245.74 481.55L247.95 472.94L250.16 462.98L252.37 452.72L254.57 440.26L256.78 423.74L258.99 411.08L261.2 402.63L263.41 397.88L265.61 394.88L267.82 394.93L270.03 398L272.24 402.76L274.45 411.19L276.65 420.95L278.86 432.71L281.07 446.07L283.28 460.88L285.49 473.77L287.69 482.07L289.9 489.19L292.11 496.43L294.32 502.53L296.53 508.27L298.73 512.79L300.94 517.88L303.15 521.87L305.36 526.7L307.57 530.78L309.77 535.23L311.98 540.42L314.19 544.55L316.4 547.74L318.61 550.3L320.81 554.28L323.02 556.57L325.23 558.28L327.44 560.85L329.65 562.19L331.85 564.32L334.06 566.47L336.27 569.28L338.48 571.14L340.69 572.15L342.89 575.13L345.1 576.93L347.31 578.11L349.52 580.57L351.73 580.95L353.94 582.68L356.14 584.8L358.35 585.8L360.56 588.18L362.77 587.46L364.98 591.98L367.18 590.92L369.39 593.02L371.6 592.75L373.81 596.27L376.02 598.09L378.22 598.73L380.43 599.31L382.64 596.99L384.85 599.04L387.06 600.62L389.26 601.19L391.47 605.56L393.68 605.5L395.89 606.45L398.1 608.44L400.3 607.15L402.51 608.24L404.72 609.26L406.93 612.6L409.14 613.2L411.34 614.4L413.55 616.07L415.76 612.29L417.97 614.45L420.18 616.31L422.38 613.69L424.59 615.05L426.8 617.21"/>
<path stroke="#00ff00" d="M109.2 613.53L111.42 613.11L113.63 610.89L115.85 609.97L118.06 611.63L120.28 608.62L122.49 609.2L124.71 610.16L126.93 606.67L129.14 605.48L131.36 605.58L133.57 605.66L135.79 604.61L138.01 603.25L140.22 602.93L142.44 598.94L144.65 599.08L146.87 599.55L149.08 597.11L151.3 595.61L153.52 594.8L155.73 594.15L157.95 594.01L160.16 591.89L162.38 592.26L164.59 592.79L166.81 589.48L169.03 589.77L171.24 587.3L173.46 584.32L175.67 583.59L177.89 581.16L180.11 580.93L182.32 577.14L184.54 577.03L186.75 573.9L188.97 569.15L191.18 567.87L193.4 564.07L195.62 558.11L197.83 554.04L200.05 547.53L202.26 543.99L204.48 539.86L206.69 538.71L208.91 536.34L211.13 534.85L213.34 534.84L215.56 534.18L217.77 531.41L219.99 529.4L222.21 525.89L224.42 521.98L226.64 518.19L228.85 514.38L231.07 509.78L233.28 506.17L235.5 501.87L237.72 496.87L239.93 492.07L242.15 486.07L244.36 478.52L246.58 469.81L248.79 456.43L251.01 439.91L253.23 420.01L255.44 408.54L257.66 402.44L259.87 398.87L262.09 399.35L264.31 403.49L266.52 409.39L268.74 417.59L270.95 427.25L273.17 436.87L275.38 447.09L277.6 459.06L279.82 474.74L282.03 484.37L284.25 492.16L286.46 498.98L288.68 505.94L290.89 512.21L293.11 518.35L295.33 523.02L297.54 528.35L299.76 532.61L301.97 536.65L304.19 540.17L306.41 543.37L308.62 547.4L310.84 550.42L313.05 553.84L315.27 556.36L317.48 558.69L319.7 561.56L321.92 564.13L324.13 567.59L326.35 567.62L328.56 570.03L330.78 572.64L332.99 571.47L335.21 573.27L337.43 575.23L339.64 577.67L341.86 581.54L344.07 581.19L346.29 583.44L348.51 583.47L350.72 582.58L352.94 584.07L355.15 589.05L357.37 589.64L359.58 589.5L361.8 594.03L364.02 592.59L366.23 597.76L368.45 599.95L370.66 598.53L372.88 599.34L375.09 603.29L377.31 601.53L379.53 605.49L381.74 603.39L383.96 607.62L386.17 607.72L388.39 608.1L390.61 608.47L392.82 611.38L395.04 608.36L397.25 611.77L399.47 612.06L401.68 614.39L403.9 611.12"/>
<path stroke="#800000" d="M92.7 593.29L94.9 589.24L97.11 586.87L99.31 588.38L101.51 587.71L103.72 585.01L105.92 583.79L108.13 584.46L110.33 583.58L112.53 583.77L114.74 585.31L116.94 583.68L119.14 582.87L121.35 582.42L123.55 581.33L125.76 581.46L127.96 580.76L130.16 578.83L132.37 578.41L134.57 579.54L136.77 576.85L138.98 575.36L141.18 576.21L143.38 573.5L145.59 571.57L147.79 571.9L150 569.62L152.2 568.82L154.4 568.24L156.61 566.69L158.81 565.01L161.01 563.92L163.22 562.71L165.42 562.7L167.62 560.37L169.83 559.29L172.03 559.58L174.24 556.65L176.44 556.23L178.64 554.29L180.85 551.44L183.05 548.53L185.25 546.98L187.46 544.43L189.66 541.78L191.87 538.53L194.07 536.02L196.27 532.97L198.48 528.82L200.68 526.03L202.88 521.81L205.09 517.5L207.29 513.16L209.49 508.88L211.7 503.5L213.9 497.39L216.11 491.61L218.31 484.38L220.51 476.26L222.72 468.05L224.92 459.69L227.12 451.49L229.33 442.9L231.53 434.63L233.74 426.23L235.94 419.77L238.14 415.8L240.35 412.77L242.55 409.88L244.75 408.68L246.96 409.15L249.16 410.23L251.36 412.02L253.57 416.15L255.77 421.53L257.98 428.55L260.18 436.48L262.38 444.73L264.59 452.85L266.79 460.9L268.99 470.46L271.2 480.48L273.4 488.57L275.61 495.71L277.81 502.65L280.01 509.38L282.22 514.45L284.42 518.52L286.62 521.66L288.83 526.55L291.03 530.1L293.23 534.05L295.44 537.34L297.64 539.41L299.85 541.7L302.05 543.11L304.25 545.26L306.46 547.38L308.66 550.09L310.86 552.52L313.07 554.53L315.27 557.3L317.48 558.14L319.68 558.57L321.88 562.46L324.09 561.4L326.29 562.1L328.49 564.71L330.7 565.67L332.9 565.15L335.1 566.04L337.31 567.51L339.51 570.25L341.72 570.33L343.92 571.07L346.12 572.76L348.33 574.78L350.53 573.58L352.73 575.34L354.94 575.37L357.14 579.25L359.34 579.57L361.55 579.19L363.75 578.48L365.96 579.44L368.16 577.31L370.36 580.1L372.57 579.41L374.77 580.28L376.97 581.65L379.18 582.57L381.38 583.92L383.59 584.45L385.79 584.38L387.99 583.47L390.2 585.34L392.4 584.68"/>
<path stroke="#0000ff" d="M73.3 563.97L75.51 562.28L77.73 560.72L79.94 561.79L82.15 563.01L84.37 561.44L86.58 560.5L88.79 560.61L91.01 559.79L93.22 559.15L95.43 557.94L97.65 557.6L99.86 556.91L102.07 555.61L104.29 554.48L106.5 554.26L108.71 553.76L110.93 552.61L113.14 551.54L115.35 550.55L117.57 550.58L119.78 548.41L121.99 547.73L124.21 547.06L126.42 545.07L128.63 544.03L130.85 543.22L133.06 542.33L135.27 540.58L137.49 539.44L139.7 538.16L141.91 536.49L144.13 536.18L146.34 534.45L148.55 532.7L150.77 532.01L152.98 530.2L155.19 529.14L157.41 528.14L159.62 526.55L161.83 525.84L164.05 523.67L166.26 522.58L168.47 520.8L170.69 518.84L172.9 516.18L175.11 513.22L177.33 510.15L179.54 506.87L181.75 503.64L183.97 499.44L186.18 495.27L188.39 490.21L190.61 484.39L192.82 476.81L195.03 469.46L197.25 462.15L199.46 455.12L201.67 447.98L203.89 441.07L206.1 434.26L208.31 427.9L210.53 424.1L212.74 421.1L214.95 419.09L217.17 417.86L219.38 416.98L221.59 416.22L223.81 415.82L226.02 415.86L228.23 416.31L230.45 416.97L232.66 417.89L234.87 419.82L237.09 422.55L239.3 425.94L241.51 430.29L243.73 436.35L245.94 443.81L248.15 453.23L250.37 461.04L252.58 468.53L254.79 474.9L257.01 480.38L259.22 485.24L261.43 489.98L263.65 493.66L265.86 497.24L268.07 500.63L270.29 503.36L272.5 506.64L274.71 509.48L276.93 512.59L279.14 515.46L281.35 517.69L283.57 520.78L285.78 522.34L287.99 524.76L290.21 525.62L292.42 527.68L294.63 528.66L296.85 530.31L299.06 531.48L301.27 532.35L303.49 534.12L305.7 535.9L307.91 537.37L310.13 537.68L312.34 538.43L314.55 539.87L316.77 541.07L318.98 541.82L321.19 542.72L323.41 544.47L325.62 545.55L327.83 546.47L330.05 546.68L332.26 548.1L334.47 548.87L336.69 549.1L338.9 551.09L341.11 551.5L343.33 552L345.54 553.82L347.75 554.29L349.97 555.19L352.18 556.25L354.39 556.85L356.61 556.58L358.82 557.97L361.03 559.69L363.25 559.5L365.46 560.9L367.67 562.03L369.89 563.63L372.1 564.47"/>
</g>
<g stroke="#000" stroke-width="1.3" fill="none">
<rect x="73.3" y="362.5" width="373.7" height="277.9"/>
<path stroke-width="1.1" d="M70.3 640.27H73.3M444 640.27H447M70.3 635.78H73.3M444 635.78H447M70.3 631.98H73.3M444 631.98H447M70.3 628.69H73.3M444 628.69H447M70.3 625.79H73.3M444 625.79H447M67.8 623.2H73.3M441.5 623.2H447M70.3 606.13H73.3M444 606.13H447M70.3 596.15H73.3M444 596.15H447M70.3 589.06H73.3M444 589.06H447M70.3 583.57H73.3M444 583.57H447M70.3 579.08H73.3M444 579.08H447M70.3 575.28H73.3M444 575.28H447M70.3 571.99H73.3M444 571.99H447M70.3 569.09H73.3M444 569.09H447M67.8 566.5H73.3M441.5 566.5H447M70.3 549.43H73.3M444 549.43H447M70.3 539.45H73.3M444 539.45H447M70.3 532.36H73.3M444 532.36H447M70.3 526.87H73.3M444 526.87H447M70.3 522.38H73.3M444 522.38H447M70.3 518.58H73.3M444 518.58H447M70.3 515.29H73.3M444 515.29H447M70.3 512.39H73.3M444 512.39H447M67.8 509.8H73.3M441.5 509.8H447M70.3 492.73H73.3M444 492.73H447M70.3 482.75H73.3M444 482.75H447M70.3 475.66H73.3M444 475.66H447M70.3 470.17H73.3M444 470.17H447M70.3 465.68H73.3M444 465.68H447M70.3 461.88H73.3M444 461.88H447M70.3 458.59H73.3M444 458.59H447M70.3 455.69H73.3M444 455.69H447M67.8 453.1H73.3M441.5 453.1H447M70.3 436.03H73.3M444 436.03H447M70.3 426.05H73.3M444 426.05H447M70.3 418.96H73.3M444 418.96H447M70.3 413.47H73.3M444 413.47H447M70.3 408.98H73.3M444 408.98H447M70.3 405.18H73.3M444 405.18H447M70.3 401.89H73.3M444 401.89H447M70.3 398.99H73.3M444 398.99H447M67.8 396.4H73.3M441.5 396.4H447M70.3 379.33H73.3M444 379.33H447M70.3 369.35H73.3M444 369.35H447M70.3 362.26H73.3M444 362.26H447M103.2 640.4V645.9M103.2 362.5V368M136.83 640.4V643.4M136.83 362.5V365.5M170.46 640.4V645.9M170.46 362.5V368M204.09 640.4V643.4M204.09 362.5V365.5M237.73 640.4V645.9M237.73 362.5V368M271.36 640.4V643.4M271.36 362.5V365.5M304.99 640.4V645.9M304.99 362.5V368M338.63 640.4V643.4M338.63 362.5V365.5M372.26 640.4V645.9M372.26 362.5V368M405.89 640.4V643.4M405.89 362.5V365.5M439.53 640.4V645.9M439.53 362.5V368"/>
</g>
<g font-family="'Liberation Sans', Arial, Helvetica, sans-serif" fill="#000" stroke="#000" stroke-width="0.2">
<text x="64.3" y="627.3" font-size="13" text-anchor="end">100</text>
<text x="64.3" y="570.6" font-size="13" text-anchor="end">1000</text>
<text x="64.3" y="513.9" font-size="13" text-anchor="end">10000</text>
<text x="64.3" y="457.2" font-size="13" text-anchor="end">100000</text>
<text x="64.3" y="400.5" font-size="13" text-anchor="end">1000000</text>
<text x="103.2" y="660" font-size="13" text-anchor="middle">16.20</text>
<text x="170.46" y="660" font-size="13" text-anchor="middle">16.65</text>
<text x="237.73" y="660" font-size="13" text-anchor="middle">17.10</text>
<text x="304.99" y="660" font-size="13" text-anchor="middle">17.55</text>
<text x="372.26" y="660" font-size="13" text-anchor="middle">18.00</text>
<text x="439.53" y="660" font-size="13" text-anchor="middle">18.45</text>
<text x="203.7" y="681.5" font-size="13">Diffraction angle (&#952;)</text>
<text transform="translate(11.2,490) rotate(-90)" font-size="14" text-anchor="middle">Intensity (a.u.)</text>
<text x="86.8" y="382.9" font-size="13">Rocking curve</text>
<text x="83.3" y="404.2" font-size="13.2">290MeV</text>
<text x="135.6" y="398.8" stroke-width="0" font-size="7.9">238</text>
<text x="148.6" y="404.4" font-size="13.2">U</text>
<text x="161.9" y="398.8" stroke-width="0" font-size="7.9">32+</text>
<text x="216.1" y="381.7" font-size="12.8">GaN (0002)</text>
<path d="M322.8 398.1H349.2" stroke="#333333" stroke-width="1.1"/>
<text x="353.4" y="402.9" font-size="13.7">Un-irradiated</text>
<path d="M322.8 414.8H349.2" stroke="#50e0e0" stroke-width="1.1"/>
<text x="353.4" y="419.6" font-size="13.7">1E9</text>
<path d="M322.8 432.1H349.2" stroke="#c05858" stroke-width="1.1"/>
<text x="353.4" y="436.9" font-size="13.7">1E10</text>
<path d="M322.8 449.1H349.2" stroke="#e060e0" stroke-width="1.1"/>
<text x="353.4" y="453.9" font-size="13.7">5E10</text>
<path d="M322.8 465.8H349.2" stroke="#60d860" stroke-width="1.1"/>
<text x="353.4" y="470.6" font-size="13.7">1E11</text>
<path d="M322.8 483.1H349.2" stroke="#a05858" stroke-width="1.1"/>
<text x="353.4" y="487.9" font-size="13.7">5E11</text>
<path d="M322.8 500.3H349.2" stroke="#5050b8" stroke-width="1.1"/>
<text x="353.4" y="505.1" font-size="13.7">1E12</text>
</g>
</svg>
</body></html>
